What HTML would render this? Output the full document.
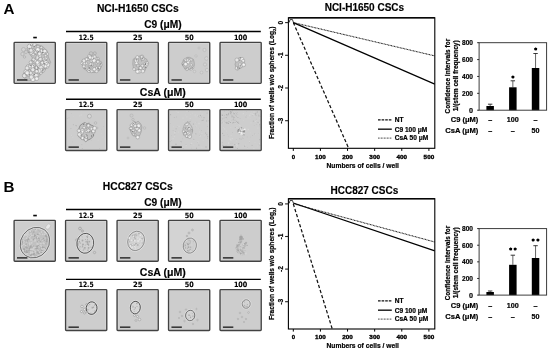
<!DOCTYPE html>
<html><head><meta charset="utf-8"><style>
html,body{margin:0;padding:0;background:#fff;}
svg{display:block;}
text{font-family:'Liberation Sans',sans-serif;font-weight:bold;fill:#000;}
text.h{stroke:#000;stroke-width:0.15px;}
text.m{font-family:'DejaVu Sans',sans-serif;stroke:#000;stroke-width:0.1px;}
text.c{stroke:#000;stroke-width:0.2px;}
text.c2{stroke:#000;stroke-width:0.35px;}
text.st{stroke:#000;stroke-width:0.9px;stroke-linejoin:round;}
</style></head><body>
<svg width="550" height="352" viewBox="0 0 550 352">
<defs><filter id="b1" x="-20%" y="-20%" width="140%" height="140%"><feGaussianBlur stdDeviation="0.35"/></filter><filter id="b2" x="-20%" y="-20%" width="140%" height="140%"><feGaussianBlur stdDeviation="0.5"/></filter></defs>
<rect width="550" height="352" fill="#fff"/>
<text x="3.60" y="13.60" font-size="15.2" text-anchor="start" >A</text>
<text x="96.90" y="12.00" font-size="10.3" text-anchor="start" class="h" >NCI-H1650 CSCs</text>
<text x="144.20" y="27.80" font-size="10.2" text-anchor="start" class="h" >C9 (μM)</text>
<line x1="66.00" y1="31.50" x2="260.80" y2="31.50" stroke="#000" stroke-width="1.45" />
<text x="35.05" y="39.60" font-size="8.2" text-anchor="middle" class="m" style="stroke-width:0.35px">–</text>
<text x="86.18" y="40.10" font-size="7.3" text-anchor="middle" class="m"  textLength="14.9" lengthAdjust="spacingAndGlyphs">12.5</text>
<text x="137.66" y="40.10" font-size="7.3" text-anchor="middle" class="m"  textLength="9.5" lengthAdjust="spacingAndGlyphs">25</text>
<text x="189.14" y="40.10" font-size="7.3" text-anchor="middle" class="m"  textLength="9.0" lengthAdjust="spacingAndGlyphs">50</text>
<text x="240.62" y="40.10" font-size="7.3" text-anchor="middle" class="m"  textLength="13.4" lengthAdjust="spacingAndGlyphs">100</text>
<rect x="14.10" y="42.40" width="41.20" height="40.90" fill="#cdcdcd" stroke="none" stroke-width="0" />
<g filter="url(#b1)"><polygon points="29.1,45.4 33.0,44.2 37.0,44.3 42.7,46.5 47.3,51.0 48.4,56.8 50.7,62.5 47.3,67.0 43.9,71.5 39.3,76.0 34.8,80.6 26.8,80.6 22.3,76.0 25.7,69.3 30.2,63.6 32.5,57.9 29.1,53.4 26.8,48.8" fill="#c2c2c2" stroke="#909090" stroke-width="0.5" stroke-linejoin="round"/>
<circle cx="26.1" cy="75.0" r="2.04" fill="#e6e6e6" stroke="#8a8a8a" stroke-width="0.45"/>
<circle cx="26.1" cy="75.0" r="0.82" fill="#f6f6f6"/>
<circle cx="40.8" cy="72.9" r="1.30" fill="#e6e6e6" stroke="#8a8a8a" stroke-width="0.45"/>
<circle cx="41.1" cy="72.9" r="0.52" fill="#f6f6f6"/>
<circle cx="34.9" cy="70.5" r="1.45" fill="#e6e6e6" stroke="#8a8a8a" stroke-width="0.45"/>
<circle cx="34.7" cy="62.2" r="1.46" fill="#e6e6e6" stroke="#8a8a8a" stroke-width="0.45"/>
<circle cx="34.5" cy="62.2" r="0.58" fill="#f6f6f6"/>
<circle cx="30.5" cy="45.0" r="2.12" fill="#e6e6e6" stroke="#8a8a8a" stroke-width="0.45"/>
<circle cx="40.5" cy="51.0" r="2.29" fill="#e6e6e6" stroke="#8a8a8a" stroke-width="0.45"/>
<circle cx="42.8" cy="70.1" r="2.23" fill="#e6e6e6" stroke="#8a8a8a" stroke-width="0.45"/>
<circle cx="43.1" cy="70.2" r="0.89" fill="#f6f6f6"/>
<circle cx="30.9" cy="65.6" r="2.17" fill="#e6e6e6" stroke="#8a8a8a" stroke-width="0.45"/>
<circle cx="36.7" cy="65.6" r="1.24" fill="#e6e6e6" stroke="#8a8a8a" stroke-width="0.45"/>
<circle cx="36.9" cy="65.6" r="0.50" fill="#f6f6f6"/>
<circle cx="42.3" cy="68.8" r="1.61" fill="#e6e6e6" stroke="#8a8a8a" stroke-width="0.45"/>
<circle cx="42.3" cy="69.0" r="0.64" fill="#f6f6f6"/>
<circle cx="37.1" cy="58.5" r="1.74" fill="#e6e6e6" stroke="#8a8a8a" stroke-width="0.45"/>
<circle cx="36.7" cy="58.7" r="0.70" fill="#f6f6f6"/>
<circle cx="33.5" cy="50.4" r="1.75" fill="#e6e6e6" stroke="#8a8a8a" stroke-width="0.45"/>
<circle cx="44.2" cy="63.8" r="2.15" fill="#e6e6e6" stroke="#8a8a8a" stroke-width="0.45"/>
<circle cx="44.2" cy="64.2" r="0.86" fill="#f6f6f6"/>
<circle cx="38.7" cy="60.9" r="1.50" fill="#e6e6e6" stroke="#8a8a8a" stroke-width="0.45"/>
<circle cx="45.3" cy="63.1" r="1.82" fill="#e6e6e6" stroke="#8a8a8a" stroke-width="0.45"/>
<circle cx="44.9" cy="63.4" r="0.73" fill="#f6f6f6"/>
<circle cx="38.5" cy="51.5" r="1.76" fill="#e6e6e6" stroke="#8a8a8a" stroke-width="0.45"/>
<circle cx="38.4" cy="51.4" r="0.70" fill="#f6f6f6"/>
<circle cx="37.6" cy="66.9" r="1.87" fill="#e6e6e6" stroke="#8a8a8a" stroke-width="0.45"/>
<circle cx="37.2" cy="66.7" r="0.75" fill="#f6f6f6"/>
<circle cx="29.6" cy="74.8" r="1.94" fill="#e6e6e6" stroke="#8a8a8a" stroke-width="0.45"/>
<circle cx="29.2" cy="74.5" r="0.78" fill="#f6f6f6"/>
<circle cx="43.8" cy="53.3" r="1.32" fill="#e6e6e6" stroke="#8a8a8a" stroke-width="0.45"/>
<circle cx="32.1" cy="46.7" r="1.38" fill="#e6e6e6" stroke="#8a8a8a" stroke-width="0.45"/>
<circle cx="42.5" cy="60.8" r="1.55" fill="#e6e6e6" stroke="#8a8a8a" stroke-width="0.45"/>
<circle cx="42.1" cy="60.7" r="0.62" fill="#f6f6f6"/>
<circle cx="34.3" cy="51.0" r="1.32" fill="#e6e6e6" stroke="#8a8a8a" stroke-width="0.45"/>
<circle cx="36.8" cy="51.8" r="1.87" fill="#e6e6e6" stroke="#8a8a8a" stroke-width="0.45"/>
<circle cx="26.5" cy="70.4" r="1.38" fill="#e6e6e6" stroke="#8a8a8a" stroke-width="0.45"/>
<circle cx="41.6" cy="64.0" r="1.44" fill="#e6e6e6" stroke="#8a8a8a" stroke-width="0.45"/>
<circle cx="45.0" cy="63.0" r="1.45" fill="#e6e6e6" stroke="#8a8a8a" stroke-width="0.45"/>
<circle cx="33.5" cy="65.2" r="1.55" fill="#e6e6e6" stroke="#8a8a8a" stroke-width="0.45"/>
<circle cx="31.0" cy="75.4" r="1.54" fill="#e6e6e6" stroke="#8a8a8a" stroke-width="0.45"/>
<circle cx="43.4" cy="59.3" r="1.48" fill="#e6e6e6" stroke="#8a8a8a" stroke-width="0.45"/>
<circle cx="43.7" cy="59.0" r="0.59" fill="#f6f6f6"/>
<circle cx="38.5" cy="50.4" r="2.15" fill="#e6e6e6" stroke="#8a8a8a" stroke-width="0.45"/>
<circle cx="42.3" cy="62.7" r="1.62" fill="#e6e6e6" stroke="#8a8a8a" stroke-width="0.45"/>
<circle cx="42.1" cy="62.9" r="0.65" fill="#f6f6f6"/>
<circle cx="34.6" cy="51.3" r="1.31" fill="#e6e6e6" stroke="#8a8a8a" stroke-width="0.45"/>
<circle cx="30.7" cy="62.4" r="1.56" fill="#e6e6e6" stroke="#8a8a8a" stroke-width="0.45"/>
<circle cx="31.9" cy="52.0" r="1.94" fill="#e6e6e6" stroke="#8a8a8a" stroke-width="0.45"/>
<circle cx="29.0" cy="70.6" r="1.29" fill="#e6e6e6" stroke="#8a8a8a" stroke-width="0.45"/>
<circle cx="29.3" cy="70.4" r="0.52" fill="#f6f6f6"/>
<circle cx="43.9" cy="66.0" r="2.13" fill="#e6e6e6" stroke="#8a8a8a" stroke-width="0.45"/>
<circle cx="43.7" cy="65.9" r="0.85" fill="#f6f6f6"/>
<circle cx="46.9" cy="66.2" r="2.25" fill="#e6e6e6" stroke="#8a8a8a" stroke-width="0.45"/>
<circle cx="24.4" cy="75.7" r="2.07" fill="#e6e6e6" stroke="#8a8a8a" stroke-width="0.45"/>
<circle cx="32.0" cy="66.6" r="2.06" fill="#e6e6e6" stroke="#8a8a8a" stroke-width="0.45"/>
<circle cx="32.0" cy="66.4" r="0.82" fill="#f6f6f6"/>
<circle cx="47.6" cy="64.7" r="2.22" fill="#e6e6e6" stroke="#8a8a8a" stroke-width="0.45"/>
<circle cx="47.4" cy="65.0" r="0.89" fill="#f6f6f6"/>
<circle cx="41.3" cy="47.5" r="1.33" fill="#e6e6e6" stroke="#8a8a8a" stroke-width="0.45"/>
<circle cx="29.2" cy="71.3" r="1.31" fill="#e6e6e6" stroke="#8a8a8a" stroke-width="0.45"/>
<circle cx="33.0" cy="79.5" r="2.20" fill="#e6e6e6" stroke="#8a8a8a" stroke-width="0.45"/>
<circle cx="32.8" cy="79.5" r="0.88" fill="#f6f6f6"/>
<circle cx="39.2" cy="60.6" r="1.54" fill="#e6e6e6" stroke="#8a8a8a" stroke-width="0.45"/>
<circle cx="39.6" cy="61.0" r="0.62" fill="#f6f6f6"/>
<circle cx="28.4" cy="66.7" r="2.28" fill="#e6e6e6" stroke="#8a8a8a" stroke-width="0.45"/>
<circle cx="41.8" cy="68.3" r="1.48" fill="#e6e6e6" stroke="#8a8a8a" stroke-width="0.45"/>
<circle cx="31.0" cy="53.2" r="1.29" fill="#e6e6e6" stroke="#8a8a8a" stroke-width="0.45"/>
<circle cx="31.4" cy="53.1" r="0.52" fill="#f6f6f6"/>
<circle cx="40.8" cy="67.6" r="2.23" fill="#e6e6e6" stroke="#8a8a8a" stroke-width="0.45"/>
<circle cx="40.7" cy="67.5" r="0.89" fill="#f6f6f6"/>
<circle cx="31.3" cy="75.0" r="2.18" fill="#e6e6e6" stroke="#8a8a8a" stroke-width="0.45"/>
<circle cx="31.2" cy="75.1" r="0.87" fill="#f6f6f6"/>
<circle cx="38.7" cy="65.9" r="1.47" fill="#e6e6e6" stroke="#8a8a8a" stroke-width="0.45"/>
<circle cx="38.5" cy="65.6" r="0.59" fill="#f6f6f6"/>
<circle cx="38.0" cy="46.8" r="1.28" fill="#e6e6e6" stroke="#8a8a8a" stroke-width="0.45"/>
<circle cx="30.6" cy="73.0" r="1.74" fill="#e6e6e6" stroke="#8a8a8a" stroke-width="0.45"/>
<circle cx="45.6" cy="55.8" r="1.32" fill="#e6e6e6" stroke="#8a8a8a" stroke-width="0.45"/>
<circle cx="31.3" cy="77.1" r="2.08" fill="#e6e6e6" stroke="#8a8a8a" stroke-width="0.45"/>
<circle cx="41.9" cy="50.7" r="1.68" fill="#e6e6e6" stroke="#8a8a8a" stroke-width="0.45"/>
<circle cx="42.1" cy="50.8" r="0.67" fill="#f6f6f6"/>
<circle cx="29.5" cy="46.5" r="2.26" fill="#e6e6e6" stroke="#8a8a8a" stroke-width="0.45"/>
<circle cx="37.9" cy="63.9" r="2.14" fill="#e6e6e6" stroke="#8a8a8a" stroke-width="0.45"/>
<circle cx="37.8" cy="63.8" r="0.85" fill="#f6f6f6"/>
<circle cx="40.7" cy="59.4" r="1.83" fill="#e6e6e6" stroke="#8a8a8a" stroke-width="0.45"/>
<circle cx="40.5" cy="59.1" r="0.73" fill="#f6f6f6"/>
<circle cx="45.8" cy="58.7" r="1.64" fill="#e6e6e6" stroke="#8a8a8a" stroke-width="0.45"/>
<circle cx="37.3" cy="62.4" r="1.91" fill="#e6e6e6" stroke="#8a8a8a" stroke-width="0.45"/>
<circle cx="37.5" cy="62.6" r="0.77" fill="#f6f6f6"/>
<circle cx="35.9" cy="52.4" r="1.65" fill="#e6e6e6" stroke="#8a8a8a" stroke-width="0.45"/>
<circle cx="30.1" cy="67.7" r="1.25" fill="#e6e6e6" stroke="#8a8a8a" stroke-width="0.45"/>
<circle cx="30.1" cy="68.0" r="0.50" fill="#f6f6f6"/>
<circle cx="26.8" cy="72.1" r="2.17" fill="#e6e6e6" stroke="#8a8a8a" stroke-width="0.45"/>
<circle cx="27.0" cy="72.4" r="0.87" fill="#f6f6f6"/>
<circle cx="32.9" cy="69.7" r="2.01" fill="#e6e6e6" stroke="#8a8a8a" stroke-width="0.45"/>
<circle cx="41.7" cy="70.3" r="1.58" fill="#e6e6e6" stroke="#8a8a8a" stroke-width="0.45"/>
<circle cx="27.0" cy="70.8" r="1.24" fill="#e6e6e6" stroke="#8a8a8a" stroke-width="0.45"/>
<circle cx="45.2" cy="67.1" r="1.49" fill="#e6e6e6" stroke="#8a8a8a" stroke-width="0.45"/>
<circle cx="41.0" cy="69.7" r="1.69" fill="#e6e6e6" stroke="#8a8a8a" stroke-width="0.45"/>
<circle cx="45.1" cy="60.0" r="1.38" fill="#e6e6e6" stroke="#8a8a8a" stroke-width="0.45"/>
<circle cx="44.8" cy="60.3" r="0.55" fill="#f6f6f6"/>
<circle cx="39.4" cy="59.1" r="1.33" fill="#e6e6e6" stroke="#8a8a8a" stroke-width="0.45"/>
<circle cx="39.2" cy="59.3" r="0.53" fill="#f6f6f6"/>
<circle cx="34.8" cy="45.0" r="1.89" fill="#e6e6e6" stroke="#8a8a8a" stroke-width="0.45"/>
<circle cx="46.0" cy="51.7" r="1.51" fill="#e6e6e6" stroke="#8a8a8a" stroke-width="0.45"/>
<circle cx="30.1" cy="65.5" r="1.48" fill="#e6e6e6" stroke="#8a8a8a" stroke-width="0.45"/>
<circle cx="36.2" cy="75.3" r="2.05" fill="#e6e6e6" stroke="#8a8a8a" stroke-width="0.45"/>
<circle cx="33.2" cy="54.5" r="1.32" fill="#e6e6e6" stroke="#8a8a8a" stroke-width="0.45"/>
<circle cx="25.7" cy="71.4" r="1.80" fill="#e6e6e6" stroke="#8a8a8a" stroke-width="0.45"/>
<circle cx="38.6" cy="55.5" r="1.75" fill="#e6e6e6" stroke="#8a8a8a" stroke-width="0.45"/>
<circle cx="38.6" cy="55.1" r="0.70" fill="#f6f6f6"/>
<circle cx="34.9" cy="60.6" r="1.54" fill="#e6e6e6" stroke="#8a8a8a" stroke-width="0.45"/>
<circle cx="35.1" cy="60.7" r="0.61" fill="#f6f6f6"/>
<circle cx="36.3" cy="67.8" r="1.62" fill="#e6e6e6" stroke="#8a8a8a" stroke-width="0.45"/>
<circle cx="35.9" cy="67.6" r="0.65" fill="#f6f6f6"/>
<circle cx="45.9" cy="62.8" r="2.29" fill="#e6e6e6" stroke="#8a8a8a" stroke-width="0.45"/>
<circle cx="46.1" cy="62.7" r="0.91" fill="#f6f6f6"/>
<circle cx="31.0" cy="50.4" r="1.88" fill="#e6e6e6" stroke="#8a8a8a" stroke-width="0.45"/>
<circle cx="33.4" cy="59.7" r="1.65" fill="#e6e6e6" stroke="#8a8a8a" stroke-width="0.45"/>
<circle cx="38.9" cy="70.9" r="2.19" fill="#e6e6e6" stroke="#8a8a8a" stroke-width="0.45"/>
<circle cx="36.3" cy="71.3" r="1.90" fill="#e6e6e6" stroke="#8a8a8a" stroke-width="0.45"/>
<circle cx="40.2" cy="59.0" r="1.89" fill="#e6e6e6" stroke="#8a8a8a" stroke-width="0.45"/>
<circle cx="45.5" cy="66.2" r="1.58" fill="#e6e6e6" stroke="#8a8a8a" stroke-width="0.45"/>
<circle cx="45.6" cy="66.5" r="0.63" fill="#f6f6f6"/>
<circle cx="37.8" cy="49.7" r="2.12" fill="#e6e6e6" stroke="#8a8a8a" stroke-width="0.45"/>
<circle cx="37.7" cy="49.4" r="0.85" fill="#f6f6f6"/>
<circle cx="36.8" cy="71.3" r="1.66" fill="#e6e6e6" stroke="#8a8a8a" stroke-width="0.45"/>
<circle cx="36.9" cy="70.9" r="0.67" fill="#f6f6f6"/>
<circle cx="36.7" cy="78.6" r="1.96" fill="#e6e6e6" stroke="#8a8a8a" stroke-width="0.45"/>
<circle cx="36.9" cy="78.7" r="0.78" fill="#f6f6f6"/>
<circle cx="47.5" cy="54.0" r="1.28" fill="#e6e6e6" stroke="#8a8a8a" stroke-width="0.45"/>
<circle cx="37.2" cy="57.6" r="1.76" fill="#e6e6e6" stroke="#8a8a8a" stroke-width="0.45"/>
<circle cx="27.1" cy="68.0" r="1.98" fill="#e6e6e6" stroke="#8a8a8a" stroke-width="0.45"/>
<circle cx="30.0" cy="66.4" r="1.46" fill="#e6e6e6" stroke="#8a8a8a" stroke-width="0.45"/>
<circle cx="27.2" cy="72.9" r="2.15" fill="#e6e6e6" stroke="#8a8a8a" stroke-width="0.45"/>
<circle cx="27.0" cy="73.3" r="0.86" fill="#f6f6f6"/>
<circle cx="40.0" cy="55.7" r="1.67" fill="#e6e6e6" stroke="#8a8a8a" stroke-width="0.45"/>
<circle cx="44.6" cy="51.1" r="1.89" fill="#e6e6e6" stroke="#8a8a8a" stroke-width="0.45"/>
<circle cx="45.0" cy="51.1" r="0.76" fill="#f6f6f6"/>
<circle cx="39.5" cy="53.7" r="1.78" fill="#e6e6e6" stroke="#8a8a8a" stroke-width="0.45"/>
<circle cx="39.2" cy="53.9" r="0.71" fill="#f6f6f6"/><circle cx="26.1" cy="75.0" r="0.53" fill="#6e6e6e"/><circle cx="35.1" cy="67.9" r="0.54" fill="#6e6e6e"/><circle cx="46.0" cy="60.0" r="0.53" fill="#6e6e6e"/><circle cx="42.8" cy="52.5" r="0.58" fill="#6e6e6e"/><circle cx="34.7" cy="62.2" r="0.37" fill="#6e6e6e"/><circle cx="28.9" cy="52.2" r="0.44" fill="#6e6e6e"/><circle cx="30.5" cy="45.0" r="0.55" fill="#6e6e6e"/><circle cx="38.1" cy="67.6" r="0.36" fill="#6e6e6e"/><circle cx="42.8" cy="70.1" r="0.58" fill="#6e6e6e"/><circle cx="34.3" cy="74.4" r="0.50" fill="#6e6e6e"/><circle cx="30.9" cy="65.6" r="0.56" fill="#6e6e6e"/><circle cx="46.3" cy="62.6" r="0.48" fill="#6e6e6e"/><circle cx="44.9" cy="59.3" r="0.35" fill="#6e6e6e"/><circle cx="37.9" cy="69.8" r="0.50" fill="#6e6e6e"/><circle cx="32.9" cy="60.2" r="0.45" fill="#6e6e6e"/><circle cx="44.4" cy="63.2" r="0.42" fill="#6e6e6e"/><circle cx="36.2" cy="45.3" r="0.31" fill="#6e6e6e"/><circle cx="39.1" cy="58.5" r="0.35" fill="#6e6e6e"/><circle cx="44.2" cy="63.8" r="0.56" fill="#6e6e6e"/><circle cx="35.3" cy="54.0" r="0.46" fill="#6e6e6e"/><circle cx="45.3" cy="63.1" r="0.47" fill="#6e6e6e"/><circle cx="34.4" cy="46.2" r="0.56" fill="#6e6e6e"/><circle cx="38.5" cy="51.5" r="0.45" fill="#6e6e6e"/><circle cx="36.1" cy="57.2" r="0.40" fill="#6e6e6e"/><circle cx="37.6" cy="66.9" r="0.48" fill="#6e6e6e"/><circle cx="35.3" cy="45.2" r="0.37" fill="#6e6e6e"/><circle cx="29.6" cy="74.8" r="0.50" fill="#6e6e6e"/><circle cx="29.4" cy="48.2" r="0.49" fill="#6e6e6e"/><circle cx="32.1" cy="46.7" r="0.35" fill="#6e6e6e"/><circle cx="37.3" cy="50.3" r="0.38" fill="#6e6e6e"/><circle cx="42.5" cy="60.8" r="0.40" fill="#6e6e6e"/><circle cx="35.8" cy="45.1" r="0.42" fill="#6e6e6e"/><circle cx="34.3" cy="51.0" r="0.33" fill="#6e6e6e"/><circle cx="47.9" cy="62.8" r="0.36" fill="#6e6e6e"/><circle cx="39.5" cy="73.9" r="0.31" fill="#6e6e6e"/><circle cx="42.7" cy="50.0" r="0.51" fill="#6e6e6e"/><circle cx="41.6" cy="64.0" r="0.37" fill="#6e6e6e"/><circle cx="37.0" cy="52.3" r="0.49" fill="#6e6e6e"/><circle cx="33.5" cy="65.2" r="0.40" fill="#6e6e6e"/><circle cx="40.2" cy="46.3" r="0.39" fill="#6e6e6e"/><circle cx="23.5" cy="49.5" r="2.00" fill="#d2d2d2" stroke="#9a9a9a" stroke-width="0.45"/><circle cx="22.5" cy="54.0" r="1.70" fill="#d2d2d2" stroke="#9a9a9a" stroke-width="0.45"/><circle cx="26.0" cy="52.0" r="1.50" fill="#d2d2d2" stroke="#9a9a9a" stroke-width="0.45"/><circle cx="24.5" cy="57.0" r="1.20" fill="#d2d2d2" stroke="#9a9a9a" stroke-width="0.45"/></g>
<rect x="15.10" y="43.40" width="39.20" height="38.90" fill="none" stroke="#dedede" stroke-width="0.5" />
<rect x="14.10" y="42.40" width="41.20" height="40.90" fill="none" stroke="#424242" stroke-width="1.35" rx="0.8"/>
<rect x="17.00" y="79.25" width="10.40" height="1.45" fill="#2a2a2a" stroke="none" stroke-width="0" />
<rect x="65.58" y="42.40" width="41.20" height="40.90" fill="#c7c7c7" stroke="none" stroke-width="0" />
<g filter="url(#b1)"><polygon points="101.5,66.5 100.5,68.3 99.8,70.4 97.3,71.1 95.4,72.5 92.8,72.6 90.3,72.0 87.6,71.7 85.9,70.0 83.7,68.7 83.0,66.6 82.4,64.6 81.9,62.5 82.1,60.3 84.4,59.1 86.1,57.7 88.1,56.4 90.7,55.6 93.4,56.4 95.9,57.4 98.7,58.1 99.4,60.6 101.8,62.1 101.5,64.4" fill="#c2c2c2" stroke="#909090" stroke-width="0.5" stroke-linejoin="round"/>
<circle cx="98.5" cy="68.1" r="1.64" fill="#e6e6e6" stroke="#8a8a8a" stroke-width="0.45"/>
<circle cx="98.6" cy="68.2" r="0.65" fill="#f6f6f6"/>
<circle cx="93.5" cy="58.3" r="1.37" fill="#e6e6e6" stroke="#8a8a8a" stroke-width="0.45"/>
<circle cx="93.7" cy="58.7" r="0.55" fill="#f6f6f6"/>
<circle cx="100.8" cy="64.9" r="1.39" fill="#e6e6e6" stroke="#8a8a8a" stroke-width="0.45"/>
<circle cx="100.4" cy="64.5" r="0.56" fill="#f6f6f6"/>
<circle cx="91.2" cy="61.0" r="1.32" fill="#e6e6e6" stroke="#8a8a8a" stroke-width="0.45"/>
<circle cx="92.4" cy="65.1" r="1.16" fill="#e6e6e6" stroke="#8a8a8a" stroke-width="0.45"/>
<circle cx="92.2" cy="64.9" r="0.46" fill="#f6f6f6"/>
<circle cx="95.3" cy="58.7" r="1.88" fill="#e6e6e6" stroke="#8a8a8a" stroke-width="0.45"/>
<circle cx="96.5" cy="71.0" r="1.74" fill="#e6e6e6" stroke="#8a8a8a" stroke-width="0.45"/>
<circle cx="96.9" cy="67.8" r="1.41" fill="#e6e6e6" stroke="#8a8a8a" stroke-width="0.45"/>
<circle cx="91.7" cy="71.3" r="1.45" fill="#e6e6e6" stroke="#8a8a8a" stroke-width="0.45"/>
<circle cx="89.0" cy="70.6" r="1.89" fill="#e6e6e6" stroke="#8a8a8a" stroke-width="0.45"/>
<circle cx="89.0" cy="71.0" r="0.76" fill="#f6f6f6"/>
<circle cx="96.3" cy="63.9" r="1.14" fill="#e6e6e6" stroke="#8a8a8a" stroke-width="0.45"/>
<circle cx="96.5" cy="63.6" r="0.46" fill="#f6f6f6"/>
<circle cx="92.0" cy="64.4" r="1.62" fill="#e6e6e6" stroke="#8a8a8a" stroke-width="0.45"/>
<circle cx="88.1" cy="59.1" r="1.46" fill="#e6e6e6" stroke="#8a8a8a" stroke-width="0.45"/>
<circle cx="94.3" cy="56.9" r="1.80" fill="#e6e6e6" stroke="#8a8a8a" stroke-width="0.45"/>
<circle cx="94.9" cy="60.3" r="1.15" fill="#e6e6e6" stroke="#8a8a8a" stroke-width="0.45"/>
<circle cx="84.0" cy="64.5" r="1.84" fill="#e6e6e6" stroke="#8a8a8a" stroke-width="0.45"/>
<circle cx="83.8" cy="64.8" r="0.74" fill="#f6f6f6"/>
<circle cx="90.3" cy="67.8" r="0.94" fill="#e6e6e6" stroke="#8a8a8a" stroke-width="0.45"/>
<circle cx="90.1" cy="67.9" r="0.37" fill="#f6f6f6"/>
<circle cx="98.1" cy="58.3" r="1.10" fill="#e6e6e6" stroke="#8a8a8a" stroke-width="0.45"/>
<circle cx="89.6" cy="56.4" r="1.99" fill="#e6e6e6" stroke="#8a8a8a" stroke-width="0.45"/>
<circle cx="89.2" cy="56.2" r="0.80" fill="#f6f6f6"/>
<circle cx="94.2" cy="68.2" r="1.02" fill="#e6e6e6" stroke="#8a8a8a" stroke-width="0.45"/>
<circle cx="93.8" cy="68.2" r="0.41" fill="#f6f6f6"/>
<circle cx="97.2" cy="68.2" r="1.89" fill="#e6e6e6" stroke="#8a8a8a" stroke-width="0.45"/>
<circle cx="99.1" cy="67.6" r="1.42" fill="#e6e6e6" stroke="#8a8a8a" stroke-width="0.45"/>
<circle cx="99.2" cy="67.5" r="0.57" fill="#f6f6f6"/>
<circle cx="84.0" cy="63.2" r="1.86" fill="#e6e6e6" stroke="#8a8a8a" stroke-width="0.45"/>
<circle cx="84.0" cy="63.1" r="0.74" fill="#f6f6f6"/>
<circle cx="92.2" cy="58.1" r="1.96" fill="#e6e6e6" stroke="#8a8a8a" stroke-width="0.45"/>
<circle cx="92.2" cy="58.0" r="0.78" fill="#f6f6f6"/>
<circle cx="83.8" cy="66.4" r="1.46" fill="#e6e6e6" stroke="#8a8a8a" stroke-width="0.45"/>
<circle cx="86.5" cy="63.2" r="1.18" fill="#e6e6e6" stroke="#8a8a8a" stroke-width="0.45"/>
<circle cx="94.3" cy="69.2" r="1.68" fill="#e6e6e6" stroke="#8a8a8a" stroke-width="0.45"/>
<circle cx="94.3" cy="69.2" r="0.67" fill="#f6f6f6"/>
<circle cx="90.1" cy="57.5" r="1.70" fill="#e6e6e6" stroke="#8a8a8a" stroke-width="0.45"/>
<circle cx="89.7" cy="57.3" r="0.68" fill="#f6f6f6"/>
<circle cx="86.5" cy="59.3" r="1.47" fill="#e6e6e6" stroke="#8a8a8a" stroke-width="0.45"/>
<circle cx="86.4" cy="59.4" r="0.59" fill="#f6f6f6"/>
<circle cx="90.6" cy="64.3" r="1.54" fill="#e6e6e6" stroke="#8a8a8a" stroke-width="0.45"/>
<circle cx="90.5" cy="64.3" r="0.62" fill="#f6f6f6"/>
<circle cx="97.9" cy="61.8" r="1.47" fill="#e6e6e6" stroke="#8a8a8a" stroke-width="0.45"/>
<circle cx="94.1" cy="60.5" r="1.98" fill="#e6e6e6" stroke="#8a8a8a" stroke-width="0.45"/>
<circle cx="93.7" cy="60.7" r="0.79" fill="#f6f6f6"/>
<circle cx="83.9" cy="60.8" r="1.82" fill="#e6e6e6" stroke="#8a8a8a" stroke-width="0.45"/>
<circle cx="82.2" cy="63.3" r="1.35" fill="#e6e6e6" stroke="#8a8a8a" stroke-width="0.45"/>
<circle cx="82.0" cy="63.4" r="0.54" fill="#f6f6f6"/><circle cx="98.5" cy="68.1" r="0.50" fill="#6e6e6e"/><circle cx="88.1" cy="65.9" r="0.48" fill="#6e6e6e"/><circle cx="93.5" cy="58.3" r="0.43" fill="#6e6e6e"/><circle cx="89.8" cy="67.9" r="0.60" fill="#6e6e6e"/><circle cx="100.8" cy="64.9" r="0.43" fill="#6e6e6e"/><circle cx="82.5" cy="63.5" r="0.40" fill="#6e6e6e"/><circle cx="89.5" cy="70.8" r="0.46" fill="#6e6e6e"/><circle cx="93.1" cy="59.6" r="0.31" fill="#6e6e6e"/><circle cx="88.4" cy="57.9" r="0.45" fill="#6e6e6e"/><circle cx="97.8" cy="68.1" r="0.57" fill="#6e6e6e"/><circle cx="97.1" cy="69.0" r="0.41" fill="#6e6e6e"/><circle cx="85.1" cy="68.4" r="0.51" fill="#6e6e6e"/><circle cx="91.1" cy="64.6" r="0.45" fill="#6e6e6e"/><circle cx="100.3" cy="64.1" r="0.55" fill="#6e6e6e"/><circle cx="89.0" cy="70.6" r="0.57" fill="#6e6e6e"/><circle cx="91.1" cy="65.3" r="0.58" fill="#6e6e6e"/><circle cx="96.3" cy="63.9" r="0.37" fill="#6e6e6e"/><circle cx="88.4" cy="67.5" r="0.35" fill="#6e6e6e"/><circle cx="91.0" cy="53.5" r="1.80" fill="none" stroke="#999" stroke-width="0.5"/><circle cx="94.8" cy="53.3" r="1.50" fill="none" stroke="#999" stroke-width="0.5"/></g>
<rect x="66.58" y="43.40" width="39.20" height="38.90" fill="none" stroke="#dedede" stroke-width="0.5" />
<rect x="65.58" y="42.40" width="41.20" height="40.90" fill="none" stroke="#424242" stroke-width="1.35" rx="0.8"/>
<rect x="68.48" y="79.25" width="10.40" height="1.45" fill="#2a2a2a" stroke="none" stroke-width="0" />
<rect x="117.06" y="42.40" width="41.20" height="40.90" fill="#cdcdcd" stroke="none" stroke-width="0" />
<g filter="url(#b1)"><polygon points="146.9,64.1 146.5,66.3 145.8,68.6 144.7,71.1 142.0,71.1 139.8,72.3 137.3,72.0 135.4,70.4 133.4,68.9 133.2,66.3 132.8,64.1 132.9,61.8 133.2,59.2 135.3,57.7 137.5,56.8 139.8,55.9 142.2,56.6 144.2,57.9 146.6,59.1 147.6,61.5" fill="#c2c2c2" stroke="#909090" stroke-width="0.5" stroke-linejoin="round"/>
<circle cx="136.3" cy="64.8" r="1.31" fill="#e6e6e6" stroke="#8a8a8a" stroke-width="0.45"/>
<circle cx="142.1" cy="57.0" r="0.91" fill="#e6e6e6" stroke="#8a8a8a" stroke-width="0.45"/>
<circle cx="136.6" cy="59.8" r="2.00" fill="#e6e6e6" stroke="#8a8a8a" stroke-width="0.45"/>
<circle cx="136.9" cy="59.7" r="0.80" fill="#f6f6f6"/>
<circle cx="142.2" cy="58.4" r="1.60" fill="#e6e6e6" stroke="#8a8a8a" stroke-width="0.45"/>
<circle cx="140.5" cy="68.0" r="1.64" fill="#e6e6e6" stroke="#8a8a8a" stroke-width="0.45"/>
<circle cx="140.7" cy="68.1" r="0.66" fill="#f6f6f6"/>
<circle cx="145.6" cy="63.7" r="1.69" fill="#e6e6e6" stroke="#8a8a8a" stroke-width="0.45"/>
<circle cx="143.4" cy="71.0" r="1.33" fill="#e6e6e6" stroke="#8a8a8a" stroke-width="0.45"/>
<circle cx="139.4" cy="71.2" r="1.87" fill="#e6e6e6" stroke="#8a8a8a" stroke-width="0.45"/>
<circle cx="139.1" cy="71.0" r="0.75" fill="#f6f6f6"/>
<circle cx="147.1" cy="63.1" r="1.59" fill="#e6e6e6" stroke="#8a8a8a" stroke-width="0.45"/>
<circle cx="147.1" cy="63.0" r="0.64" fill="#f6f6f6"/>
<circle cx="138.0" cy="65.5" r="1.54" fill="#e6e6e6" stroke="#8a8a8a" stroke-width="0.45"/>
<circle cx="142.9" cy="71.1" r="1.84" fill="#e6e6e6" stroke="#8a8a8a" stroke-width="0.45"/>
<circle cx="142.7" cy="58.6" r="1.85" fill="#e6e6e6" stroke="#8a8a8a" stroke-width="0.45"/>
<circle cx="146.2" cy="65.2" r="1.69" fill="#e6e6e6" stroke="#8a8a8a" stroke-width="0.45"/>
<circle cx="146.4" cy="65.3" r="0.67" fill="#f6f6f6"/>
<circle cx="134.1" cy="69.0" r="1.35" fill="#e6e6e6" stroke="#8a8a8a" stroke-width="0.45"/>
<circle cx="134.0" cy="69.2" r="0.54" fill="#f6f6f6"/>
<circle cx="141.9" cy="56.7" r="1.69" fill="#e6e6e6" stroke="#8a8a8a" stroke-width="0.45"/>
<circle cx="142.2" cy="57.1" r="0.68" fill="#f6f6f6"/>
<circle cx="137.4" cy="57.2" r="1.56" fill="#e6e6e6" stroke="#8a8a8a" stroke-width="0.45"/>
<circle cx="137.1" cy="57.1" r="0.62" fill="#f6f6f6"/>
<circle cx="141.8" cy="58.5" r="0.95" fill="#e6e6e6" stroke="#8a8a8a" stroke-width="0.45"/>
<circle cx="137.5" cy="71.6" r="1.89" fill="#e6e6e6" stroke="#8a8a8a" stroke-width="0.45"/>
<circle cx="137.4" cy="71.6" r="0.75" fill="#f6f6f6"/>
<circle cx="142.3" cy="65.7" r="1.52" fill="#e6e6e6" stroke="#8a8a8a" stroke-width="0.45"/>
<circle cx="146.7" cy="64.2" r="1.37" fill="#e6e6e6" stroke="#8a8a8a" stroke-width="0.45"/>
<circle cx="136.3" cy="60.8" r="1.98" fill="#e6e6e6" stroke="#8a8a8a" stroke-width="0.45"/>
<circle cx="138.9" cy="65.4" r="0.92" fill="#e6e6e6" stroke="#8a8a8a" stroke-width="0.45"/>
<circle cx="142.1" cy="56.9" r="1.59" fill="#e6e6e6" stroke="#8a8a8a" stroke-width="0.45"/>
<circle cx="142.3" cy="56.8" r="0.64" fill="#f6f6f6"/>
<circle cx="143.3" cy="68.0" r="0.92" fill="#e6e6e6" stroke="#8a8a8a" stroke-width="0.45"/>
<circle cx="143.4" cy="68.4" r="0.37" fill="#f6f6f6"/>
<circle cx="136.5" cy="63.4" r="1.55" fill="#e6e6e6" stroke="#8a8a8a" stroke-width="0.45"/>
<circle cx="136.4" cy="63.2" r="0.62" fill="#f6f6f6"/><circle cx="136.3" cy="64.8" r="0.41" fill="#6e6e6e"/><circle cx="141.7" cy="66.1" r="0.32" fill="#6e6e6e"/><circle cx="136.6" cy="59.8" r="0.60" fill="#6e6e6e"/><circle cx="139.8" cy="69.6" r="0.44" fill="#6e6e6e"/><circle cx="142.2" cy="58.4" r="0.49" fill="#6e6e6e"/><circle cx="145.6" cy="64.5" r="0.52" fill="#6e6e6e"/><circle cx="142.7" cy="57.0" r="0.53" fill="#6e6e6e"/><circle cx="141.5" cy="60.9" r="0.31" fill="#6e6e6e"/><circle cx="145.6" cy="63.7" r="0.52" fill="#6e6e6e"/><circle cx="145.8" cy="67.6" r="0.58" fill="#6e6e6e"/><circle cx="138.6" cy="69.0" r="0.43" fill="#6e6e6e"/><circle cx="139.3" cy="66.2" r="0.39" fill="#6e6e6e"/></g>
<rect x="118.06" y="43.40" width="39.20" height="38.90" fill="none" stroke="#dedede" stroke-width="0.5" />
<rect x="117.06" y="42.40" width="41.20" height="40.90" fill="none" stroke="#424242" stroke-width="1.35" rx="0.8"/>
<rect x="119.96" y="79.25" width="10.40" height="1.45" fill="#2a2a2a" stroke="none" stroke-width="0" />
<rect x="168.54" y="42.40" width="41.20" height="40.90" fill="#cdcdcd" stroke="none" stroke-width="0" />
<g filter="url(#b1)"><polygon points="194.3,63.5 194.3,65.6 193.2,67.4 191.7,69.1 189.4,69.7 187.3,69.2 184.8,69.2 183.8,67.1 182.5,65.5 181.7,63.5 182.8,61.6 183.5,59.7 185.4,58.8 187.2,57.4 189.5,57.3 191.5,58.2 193.5,59.4 194.0,61.5" fill="#c2c2c2" stroke="#909090" stroke-width="0.5" stroke-linejoin="round"/>
<circle cx="186.7" cy="59.2" r="0.97" fill="#e6e6e6" stroke="#8a8a8a" stroke-width="0.45"/>
<circle cx="187.0" cy="59.4" r="0.39" fill="#f6f6f6"/>
<circle cx="191.3" cy="60.0" r="1.49" fill="#e6e6e6" stroke="#8a8a8a" stroke-width="0.45"/>
<circle cx="191.1" cy="59.7" r="0.60" fill="#f6f6f6"/>
<circle cx="192.1" cy="67.3" r="1.78" fill="#e6e6e6" stroke="#8a8a8a" stroke-width="0.45"/>
<circle cx="192.0" cy="67.4" r="0.71" fill="#f6f6f6"/>
<circle cx="190.9" cy="67.9" r="1.87" fill="#e6e6e6" stroke="#8a8a8a" stroke-width="0.45"/>
<circle cx="191.0" cy="68.0" r="0.75" fill="#f6f6f6"/>
<circle cx="188.1" cy="59.5" r="1.42" fill="#e6e6e6" stroke="#8a8a8a" stroke-width="0.45"/>
<circle cx="188.4" cy="59.8" r="0.57" fill="#f6f6f6"/>
<circle cx="188.6" cy="61.0" r="1.90" fill="#e6e6e6" stroke="#8a8a8a" stroke-width="0.45"/>
<circle cx="188.1" cy="62.4" r="1.56" fill="#e6e6e6" stroke="#8a8a8a" stroke-width="0.45"/>
<circle cx="187.8" cy="62.3" r="0.62" fill="#f6f6f6"/>
<circle cx="185.2" cy="63.9" r="1.42" fill="#e6e6e6" stroke="#8a8a8a" stroke-width="0.45"/>
<circle cx="185.6" cy="63.7" r="0.57" fill="#f6f6f6"/>
<circle cx="186.9" cy="59.8" r="1.60" fill="#e6e6e6" stroke="#8a8a8a" stroke-width="0.45"/>
<circle cx="186.8" cy="60.0" r="0.64" fill="#f6f6f6"/>
<circle cx="185.7" cy="64.2" r="1.89" fill="#e6e6e6" stroke="#8a8a8a" stroke-width="0.45"/>
<circle cx="185.4" cy="64.0" r="0.76" fill="#f6f6f6"/>
<circle cx="191.3" cy="64.9" r="1.16" fill="#e6e6e6" stroke="#8a8a8a" stroke-width="0.45"/>
<circle cx="191.1" cy="64.9" r="0.46" fill="#f6f6f6"/>
<circle cx="191.0" cy="69.2" r="0.92" fill="#e6e6e6" stroke="#8a8a8a" stroke-width="0.45"/>
<circle cx="191.3" cy="69.4" r="0.37" fill="#f6f6f6"/>
<circle cx="186.9" cy="69.0" r="1.58" fill="#e6e6e6" stroke="#8a8a8a" stroke-width="0.45"/>
<circle cx="185.4" cy="59.7" r="1.39" fill="#e6e6e6" stroke="#8a8a8a" stroke-width="0.45"/>
<circle cx="185.3" cy="60.0" r="0.56" fill="#f6f6f6"/><circle cx="186.7" cy="59.2" r="0.32" fill="#6e6e6e"/><circle cx="186.7" cy="68.7" r="0.54" fill="#6e6e6e"/><circle cx="191.3" cy="60.0" r="0.46" fill="#6e6e6e"/><circle cx="185.2" cy="59.4" r="0.33" fill="#6e6e6e"/><circle cx="192.1" cy="67.3" r="0.54" fill="#6e6e6e"/><circle cx="184.1" cy="61.1" r="0.49" fill="#6e6e6e"/><circle cx="190.9" cy="67.9" r="0.56" fill="#6e6e6e"/><circle cx="182.8" cy="64.8" r="0.50" fill="#6e6e6e"/><circle cx="204.5" cy="50.0" r="1.60" fill="#d4d4d4" stroke="#a8a8a8" stroke-width="0.4"/><circle cx="206.5" cy="58.5" r="1.80" fill="#d4d4d4" stroke="#a8a8a8" stroke-width="0.4"/><circle cx="205.0" cy="64.5" r="1.60" fill="#d4d4d4" stroke="#a8a8a8" stroke-width="0.4"/><circle cx="207.0" cy="70.0" r="1.70" fill="#d4d4d4" stroke="#a8a8a8" stroke-width="0.4"/><circle cx="201.5" cy="72.5" r="1.40" fill="#d4d4d4" stroke="#a8a8a8" stroke-width="0.4"/><circle cx="194.5" cy="71.5" r="1.30" fill="#d4d4d4" stroke="#a8a8a8" stroke-width="0.4"/><circle cx="196.0" cy="56.0" r="1.20" fill="#d4d4d4" stroke="#a8a8a8" stroke-width="0.4"/><circle cx="199.0" cy="48.0" r="1.00" fill="#d4d4d4" stroke="#a8a8a8" stroke-width="0.4"/></g>
<rect x="169.54" y="43.40" width="39.20" height="38.90" fill="none" stroke="#dedede" stroke-width="0.5" />
<rect x="168.54" y="42.40" width="41.20" height="40.90" fill="none" stroke="#424242" stroke-width="1.35" rx="0.8"/>
<rect x="171.44" y="79.25" width="10.40" height="1.45" fill="#2a2a2a" stroke="none" stroke-width="0" />
<rect x="220.02" y="42.40" width="41.20" height="40.90" fill="#cdcdcd" stroke="none" stroke-width="0" />
<g filter="url(#b1)"><polygon points="244.0,64.7 242.9,66.5 241.5,67.9 239.7,68.5 237.9,68.8 236.2,67.9 235.5,66.0 235.0,64.1 235.8,62.1 236.2,60.0 237.7,58.6 239.5,57.5 241.3,57.8 242.6,59.2 243.6,60.6 244.2,62.5" fill="#c2c2c2" stroke="#909090" stroke-width="0.5" stroke-linejoin="round"/>
<circle cx="240.7" cy="65.9" r="1.84" fill="#e6e6e6" stroke="#8a8a8a" stroke-width="0.45"/>
<circle cx="243.7" cy="64.8" r="1.92" fill="#e6e6e6" stroke="#8a8a8a" stroke-width="0.45"/>
<circle cx="243.7" cy="64.6" r="0.77" fill="#f6f6f6"/>
<circle cx="240.0" cy="64.0" r="1.21" fill="#e6e6e6" stroke="#8a8a8a" stroke-width="0.45"/>
<circle cx="239.8" cy="64.3" r="0.48" fill="#f6f6f6"/>
<circle cx="242.1" cy="59.3" r="1.84" fill="#e6e6e6" stroke="#8a8a8a" stroke-width="0.45"/>
<circle cx="242.2" cy="59.0" r="0.74" fill="#f6f6f6"/>
<circle cx="236.9" cy="60.0" r="1.99" fill="#e6e6e6" stroke="#8a8a8a" stroke-width="0.45"/>
<circle cx="237.6" cy="68.4" r="1.63" fill="#e6e6e6" stroke="#8a8a8a" stroke-width="0.45"/>
<circle cx="236.9" cy="68.1" r="1.75" fill="#e6e6e6" stroke="#8a8a8a" stroke-width="0.45"/>
<circle cx="243.3" cy="60.9" r="1.49" fill="#e6e6e6" stroke="#8a8a8a" stroke-width="0.45"/>
<circle cx="243.0" cy="60.5" r="0.60" fill="#f6f6f6"/><circle cx="240.7" cy="65.9" r="0.54" fill="#6e6e6e"/><circle cx="239.3" cy="68.2" r="0.49" fill="#6e6e6e"/><circle cx="239.3" cy="60.3" r="0.46" fill="#6e6e6e"/><circle cx="240.3" cy="57.7" r="0.37" fill="#6e6e6e"/><circle cx="237.6" cy="67.9" r="0.53" fill="#6e6e6e"/></g>
<rect x="221.02" y="43.40" width="39.20" height="38.90" fill="none" stroke="#dedede" stroke-width="0.5" />
<rect x="220.02" y="42.40" width="41.20" height="40.90" fill="none" stroke="#424242" stroke-width="1.35" rx="0.8"/>
<rect x="222.92" y="79.25" width="10.40" height="1.45" fill="#2a2a2a" stroke="none" stroke-width="0" />
<text x="139.80" y="95.70" font-size="10.3" text-anchor="start" class="h"  textLength="46.0" lengthAdjust="spacingAndGlyphs">CsA (μM)</text>
<line x1="66.00" y1="99.30" x2="260.80" y2="99.30" stroke="#000" stroke-width="1.45" />
<text x="86.18" y="107.40" font-size="7.3" text-anchor="middle" class="m"  textLength="14.9" lengthAdjust="spacingAndGlyphs">12.5</text>
<text x="137.66" y="107.40" font-size="7.3" text-anchor="middle" class="m"  textLength="9.5" lengthAdjust="spacingAndGlyphs">25</text>
<text x="189.14" y="107.40" font-size="7.3" text-anchor="middle" class="m"  textLength="9.0" lengthAdjust="spacingAndGlyphs">50</text>
<text x="240.62" y="107.40" font-size="7.3" text-anchor="middle" class="m"  textLength="13.4" lengthAdjust="spacingAndGlyphs">100</text>
<rect x="65.58" y="109.55" width="41.20" height="40.90" fill="#cdcdcd" stroke="none" stroke-width="0" />
<g filter="url(#b1)"><circle cx="72.6" cy="136.9" r="0.55" fill="#d3d3d3"/>
<circle cx="99.7" cy="148.6" r="0.49" fill="#bdbdbd"/>
<circle cx="86.2" cy="119.2" r="0.30" fill="#d3d3d3"/>
<circle cx="103.3" cy="126.7" r="0.36" fill="#bdbdbd"/>
<circle cx="102.9" cy="137.1" r="0.47" fill="#d3d3d3"/>
<circle cx="90.6" cy="111.3" r="0.43" fill="#d3d3d3"/>
<circle cx="93.8" cy="135.3" r="0.68" fill="#bdbdbd"/>
<circle cx="72.2" cy="141.9" r="0.35" fill="#bdbdbd"/>
<circle cx="84.1" cy="131.5" r="0.44" fill="#d3d3d3"/>
<circle cx="72.0" cy="135.9" r="0.49" fill="#bdbdbd"/>
<circle cx="69.0" cy="117.7" r="0.57" fill="#bdbdbd"/>
<circle cx="70.9" cy="128.6" r="0.63" fill="#bdbdbd"/>
<circle cx="79.6" cy="115.7" r="0.51" fill="#d3d3d3"/>
<circle cx="80.6" cy="127.6" r="0.45" fill="#d3d3d3"/>
<circle cx="81.5" cy="111.0" r="0.34" fill="#d3d3d3"/>
<circle cx="66.1" cy="112.7" r="0.54" fill="#bdbdbd"/>
<circle cx="88.9" cy="122.4" r="0.69" fill="#bdbdbd"/>
<circle cx="73.2" cy="116.6" r="0.44" fill="#d3d3d3"/>
<circle cx="79.9" cy="133.3" r="0.42" fill="#bdbdbd"/>
<circle cx="72.7" cy="146.0" r="0.37" fill="#d3d3d3"/>
<circle cx="81.0" cy="136.7" r="0.57" fill="#bdbdbd"/>
<circle cx="82.3" cy="148.6" r="0.68" fill="#bdbdbd"/>
<circle cx="101.3" cy="129.1" r="0.45" fill="#bdbdbd"/>
<circle cx="103.5" cy="119.6" r="0.52" fill="#d3d3d3"/>
<circle cx="98.2" cy="140.2" r="0.49" fill="#d3d3d3"/>
<circle cx="68.1" cy="120.1" r="0.42" fill="#d3d3d3"/>
<circle cx="75.9" cy="125.4" r="0.65" fill="#bdbdbd"/>
<circle cx="105.3" cy="139.1" r="0.49" fill="#d3d3d3"/>
<circle cx="71.6" cy="135.4" r="0.66" fill="#d3d3d3"/>
<circle cx="67.1" cy="118.3" r="0.64" fill="#bdbdbd"/>
<circle cx="101.3" cy="133.5" r="0.47" fill="#d3d3d3"/>
<circle cx="78.3" cy="130.8" r="0.41" fill="#bdbdbd"/>
<circle cx="81.3" cy="114.9" r="0.59" fill="#d3d3d3"/>
<circle cx="89.7" cy="135.1" r="0.64" fill="#d3d3d3"/>
<circle cx="76.3" cy="125.8" r="0.68" fill="#bdbdbd"/>
<circle cx="71.3" cy="113.7" r="0.34" fill="#bdbdbd"/>
<circle cx="91.7" cy="140.7" r="0.33" fill="#bdbdbd"/>
<circle cx="92.2" cy="114.9" r="0.52" fill="#d3d3d3"/>
<circle cx="81.9" cy="144.6" r="0.55" fill="#bdbdbd"/>
<circle cx="73.4" cy="124.7" r="0.58" fill="#bdbdbd"/><polygon points="93.5,133.6 93.5,136.2 91.7,137.9 90.0,139.2 87.9,140.0 85.7,141.7 83.7,139.9 81.7,139.1 80.0,137.7 78.0,135.9 79.0,133.0 78.5,130.6 79.1,128.1 80.1,125.5 82.2,123.9 84.5,122.7 87.0,123.7 89.3,123.9 91.2,125.1 93.6,126.1 95.0,128.4 93.9,131.4" fill="#c2c2c2" stroke="#6a6a6a" stroke-width="0.6" stroke-linejoin="round"/>
<circle cx="86.2" cy="127.7" r="0.90" fill="#e6e6e6" stroke="#8a8a8a" stroke-width="0.45"/>
<circle cx="86.0" cy="137.2" r="1.31" fill="#e6e6e6" stroke="#8a8a8a" stroke-width="0.45"/>
<circle cx="82.6" cy="138.0" r="1.70" fill="#e6e6e6" stroke="#8a8a8a" stroke-width="0.45"/>
<circle cx="82.6" cy="138.1" r="0.68" fill="#f6f6f6"/>
<circle cx="81.3" cy="133.3" r="1.79" fill="#e6e6e6" stroke="#8a8a8a" stroke-width="0.45"/>
<circle cx="81.5" cy="133.4" r="0.71" fill="#f6f6f6"/>
<circle cx="92.3" cy="129.1" r="1.00" fill="#e6e6e6" stroke="#8a8a8a" stroke-width="0.45"/>
<circle cx="91.7" cy="131.2" r="1.00" fill="#e6e6e6" stroke="#8a8a8a" stroke-width="0.45"/>
<circle cx="91.8" cy="131.0" r="0.40" fill="#f6f6f6"/>
<circle cx="81.4" cy="135.2" r="1.30" fill="#e6e6e6" stroke="#8a8a8a" stroke-width="0.45"/>
<circle cx="93.4" cy="132.5" r="1.61" fill="#e6e6e6" stroke="#8a8a8a" stroke-width="0.45"/>
<circle cx="88.2" cy="128.5" r="1.55" fill="#e6e6e6" stroke="#8a8a8a" stroke-width="0.45"/>
<circle cx="88.5" cy="128.5" r="0.62" fill="#f6f6f6"/>
<circle cx="80.0" cy="135.3" r="1.24" fill="#e6e6e6" stroke="#8a8a8a" stroke-width="0.45"/>
<circle cx="80.0" cy="135.0" r="0.50" fill="#f6f6f6"/>
<circle cx="88.5" cy="128.6" r="1.32" fill="#e6e6e6" stroke="#8a8a8a" stroke-width="0.45"/>
<circle cx="88.2" cy="129.0" r="0.53" fill="#f6f6f6"/>
<circle cx="78.9" cy="130.8" r="1.72" fill="#e6e6e6" stroke="#8a8a8a" stroke-width="0.45"/>
<circle cx="79.3" cy="130.6" r="0.69" fill="#f6f6f6"/>
<circle cx="85.6" cy="138.5" r="1.78" fill="#e6e6e6" stroke="#8a8a8a" stroke-width="0.45"/>
<circle cx="86.0" cy="136.1" r="1.35" fill="#e6e6e6" stroke="#8a8a8a" stroke-width="0.45"/>
<circle cx="86.2" cy="136.0" r="0.54" fill="#f6f6f6"/>
<circle cx="86.3" cy="137.6" r="1.09" fill="#e6e6e6" stroke="#8a8a8a" stroke-width="0.45"/>
<circle cx="86.0" cy="137.7" r="0.44" fill="#f6f6f6"/>
<circle cx="84.1" cy="127.6" r="1.40" fill="#e6e6e6" stroke="#8a8a8a" stroke-width="0.45"/>
<circle cx="82.3" cy="130.5" r="1.87" fill="#e6e6e6" stroke="#8a8a8a" stroke-width="0.45"/>
<circle cx="82.5" cy="131.8" r="1.43" fill="#e6e6e6" stroke="#8a8a8a" stroke-width="0.45"/>
<circle cx="82.4" cy="131.6" r="0.57" fill="#f6f6f6"/>
<circle cx="91.7" cy="128.9" r="1.63" fill="#e6e6e6" stroke="#8a8a8a" stroke-width="0.45"/>
<circle cx="93.7" cy="129.9" r="1.56" fill="#e6e6e6" stroke="#8a8a8a" stroke-width="0.45"/>
<circle cx="93.6" cy="129.9" r="0.63" fill="#f6f6f6"/>
<circle cx="85.6" cy="123.8" r="0.93" fill="#e6e6e6" stroke="#8a8a8a" stroke-width="0.45"/>
<circle cx="79.9" cy="136.4" r="1.30" fill="#e6e6e6" stroke="#8a8a8a" stroke-width="0.45"/>
<circle cx="88.4" cy="130.8" r="1.76" fill="#e6e6e6" stroke="#8a8a8a" stroke-width="0.45"/>
<circle cx="86.3" cy="131.6" r="1.01" fill="#e6e6e6" stroke="#8a8a8a" stroke-width="0.45"/>
<circle cx="86.1" cy="131.7" r="0.40" fill="#f6f6f6"/>
<circle cx="88.3" cy="125.5" r="1.59" fill="#e6e6e6" stroke="#8a8a8a" stroke-width="0.45"/>
<circle cx="88.0" cy="125.6" r="0.64" fill="#f6f6f6"/>
<circle cx="85.8" cy="139.8" r="1.59" fill="#e6e6e6" stroke="#8a8a8a" stroke-width="0.45"/>
<circle cx="79.4" cy="134.5" r="1.90" fill="#e6e6e6" stroke="#8a8a8a" stroke-width="0.45"/>
<circle cx="93.2" cy="131.3" r="1.66" fill="#e6e6e6" stroke="#8a8a8a" stroke-width="0.45"/>
<circle cx="93.4" cy="131.1" r="1.76" fill="#e6e6e6" stroke="#8a8a8a" stroke-width="0.45"/>
<circle cx="93.2" cy="131.3" r="0.70" fill="#f6f6f6"/>
<circle cx="94.6" cy="128.2" r="1.93" fill="#e6e6e6" stroke="#8a8a8a" stroke-width="0.45"/>
<circle cx="94.9" cy="128.0" r="0.77" fill="#f6f6f6"/><circle cx="86.2" cy="127.7" r="0.30" fill="#6e6e6e"/><circle cx="89.2" cy="131.7" r="0.53" fill="#6e6e6e"/><circle cx="84.3" cy="137.4" r="0.38" fill="#6e6e6e"/><circle cx="91.6" cy="136.6" r="0.42" fill="#6e6e6e"/><circle cx="87.1" cy="135.7" r="0.36" fill="#6e6e6e"/><circle cx="87.4" cy="138.0" r="0.38" fill="#6e6e6e"/><circle cx="91.6" cy="135.8" r="0.55" fill="#6e6e6e"/><circle cx="83.7" cy="124.5" r="0.54" fill="#6e6e6e"/><circle cx="91.7" cy="131.2" r="0.33" fill="#6e6e6e"/><circle cx="81.3" cy="134.8" r="0.39" fill="#6e6e6e"/><circle cx="81.4" cy="135.2" r="0.41" fill="#6e6e6e"/><circle cx="86.7" cy="135.0" r="0.51" fill="#6e6e6e"/><circle cx="88.2" cy="128.5" r="0.48" fill="#6e6e6e"/><circle cx="86.9" cy="125.0" r="0.50" fill="#6e6e6e"/><circle cx="89.4" cy="116.2" r="2.00" fill="#d8d8d8" stroke="#999" stroke-width="0.5"/><circle cx="95.5" cy="123.0" r="1.30" fill="none" stroke="#aaa" stroke-width="0.5"/><circle cx="97.0" cy="128.0" r="1.00" fill="none" stroke="#aaa" stroke-width="0.5"/></g>
<rect x="66.58" y="110.55" width="39.20" height="38.90" fill="none" stroke="#dedede" stroke-width="0.5" />
<rect x="65.58" y="109.55" width="41.20" height="40.90" fill="none" stroke="#424242" stroke-width="1.35" rx="0.8"/>
<rect x="68.48" y="146.40" width="10.40" height="1.45" fill="#2a2a2a" stroke="none" stroke-width="0" />
<rect x="117.06" y="109.55" width="41.20" height="40.90" fill="#cdcdcd" stroke="none" stroke-width="0" />
<g filter="url(#b1)"><polygon points="141.4,129.5 141.2,131.8 140.4,133.9 139.5,135.9 138.0,137.3 136.2,137.0 134.7,136.2 133.0,135.8 131.8,134.1 130.8,132.0 130.0,129.5 130.6,126.9 131.7,124.8 132.8,122.8 134.4,121.6 136.2,122.4 138.1,121.2 139.7,122.6 141.1,124.4 141.9,126.9" fill="#c2c2c2" stroke="#909090" stroke-width="0.5" stroke-linejoin="round"/>
<circle cx="133.8" cy="123.6" r="1.62" fill="#e6e6e6" stroke="#8a8a8a" stroke-width="0.45"/>
<circle cx="133.9" cy="123.5" r="0.65" fill="#f6f6f6"/>
<circle cx="130.7" cy="129.3" r="0.94" fill="#e6e6e6" stroke="#8a8a8a" stroke-width="0.45"/>
<circle cx="130.3" cy="129.0" r="0.38" fill="#f6f6f6"/>
<circle cx="135.0" cy="134.5" r="1.04" fill="#e6e6e6" stroke="#8a8a8a" stroke-width="0.45"/>
<circle cx="135.2" cy="134.8" r="0.41" fill="#f6f6f6"/>
<circle cx="136.9" cy="127.6" r="1.97" fill="#e6e6e6" stroke="#8a8a8a" stroke-width="0.45"/>
<circle cx="137.2" cy="127.4" r="0.79" fill="#f6f6f6"/>
<circle cx="133.7" cy="134.3" r="1.10" fill="#e6e6e6" stroke="#8a8a8a" stroke-width="0.45"/>
<circle cx="137.6" cy="127.2" r="1.50" fill="#e6e6e6" stroke="#8a8a8a" stroke-width="0.45"/>
<circle cx="137.3" cy="126.9" r="0.60" fill="#f6f6f6"/>
<circle cx="138.1" cy="128.1" r="1.25" fill="#e6e6e6" stroke="#8a8a8a" stroke-width="0.45"/>
<circle cx="135.4" cy="126.0" r="1.77" fill="#e6e6e6" stroke="#8a8a8a" stroke-width="0.45"/>
<circle cx="132.9" cy="130.4" r="1.48" fill="#e6e6e6" stroke="#8a8a8a" stroke-width="0.45"/>
<circle cx="138.7" cy="125.8" r="1.98" fill="#e6e6e6" stroke="#8a8a8a" stroke-width="0.45"/>
<circle cx="138.6" cy="126.0" r="0.79" fill="#f6f6f6"/>
<circle cx="131.8" cy="129.0" r="0.94" fill="#e6e6e6" stroke="#8a8a8a" stroke-width="0.45"/>
<circle cx="139.1" cy="130.4" r="1.86" fill="#e6e6e6" stroke="#8a8a8a" stroke-width="0.45"/>
<circle cx="139.3" cy="130.5" r="0.75" fill="#f6f6f6"/>
<circle cx="136.9" cy="128.5" r="1.82" fill="#e6e6e6" stroke="#8a8a8a" stroke-width="0.45"/>
<circle cx="135.6" cy="131.9" r="0.97" fill="#e6e6e6" stroke="#8a8a8a" stroke-width="0.45"/>
<circle cx="137.7" cy="137.2" r="1.80" fill="#e6e6e6" stroke="#8a8a8a" stroke-width="0.45"/>
<circle cx="137.6" cy="137.3" r="0.72" fill="#f6f6f6"/>
<circle cx="130.3" cy="128.6" r="1.08" fill="#e6e6e6" stroke="#8a8a8a" stroke-width="0.45"/>
<circle cx="129.9" cy="128.8" r="0.43" fill="#f6f6f6"/>
<circle cx="131.5" cy="125.2" r="1.33" fill="#e6e6e6" stroke="#8a8a8a" stroke-width="0.45"/>
<circle cx="131.0" cy="128.4" r="1.50" fill="#e6e6e6" stroke="#8a8a8a" stroke-width="0.45"/><circle cx="133.8" cy="123.6" r="0.50" fill="#6e6e6e"/><circle cx="130.9" cy="129.8" r="0.41" fill="#6e6e6e"/><circle cx="130.7" cy="129.3" r="0.31" fill="#6e6e6e"/><circle cx="135.2" cy="122.3" r="0.33" fill="#6e6e6e"/><circle cx="135.0" cy="134.5" r="0.34" fill="#6e6e6e"/><circle cx="132.7" cy="131.3" r="0.58" fill="#6e6e6e"/><circle cx="136.9" cy="127.6" r="0.59" fill="#6e6e6e"/><circle cx="133.4" cy="123.5" r="0.34" fill="#6e6e6e"/><circle cx="131.5" cy="115.5" r="1.50" fill="none" stroke="#aaa" stroke-width="0.5"/><circle cx="133.0" cy="119.5" r="1.20" fill="none" stroke="#aaa" stroke-width="0.5"/><circle cx="144.5" cy="128.0" r="1.30" fill="none" stroke="#b0b0b0" stroke-width="0.5"/><circle cx="128.0" cy="138.0" r="1.00" fill="none" stroke="#b0b0b0" stroke-width="0.5"/></g>
<rect x="118.06" y="110.55" width="39.20" height="38.90" fill="none" stroke="#dedede" stroke-width="0.5" />
<rect x="117.06" y="109.55" width="41.20" height="40.90" fill="none" stroke="#424242" stroke-width="1.35" rx="0.8"/>
<rect x="119.96" y="146.40" width="10.40" height="1.45" fill="#2a2a2a" stroke="none" stroke-width="0" />
<rect x="168.54" y="109.55" width="41.20" height="40.90" fill="#cdcdcd" stroke="none" stroke-width="0" />
<g filter="url(#b1)"><circle cx="206.0" cy="147.0" r="0.66" fill="#b5b5b5"/>
<circle cx="169.7" cy="122.0" r="0.45" fill="#d5d5d5"/>
<circle cx="174.2" cy="117.5" r="0.48" fill="#b5b5b5"/>
<circle cx="193.8" cy="145.2" r="0.34" fill="#d5d5d5"/>
<circle cx="185.8" cy="130.0" r="0.59" fill="#d5d5d5"/>
<circle cx="199.8" cy="118.0" r="0.31" fill="#d5d5d5"/>
<circle cx="195.3" cy="134.2" r="0.69" fill="#d5d5d5"/>
<circle cx="191.6" cy="143.5" r="0.69" fill="#d5d5d5"/>
<circle cx="195.4" cy="122.3" r="0.33" fill="#d5d5d5"/>
<circle cx="176.1" cy="128.8" r="0.62" fill="#b5b5b5"/>
<circle cx="176.3" cy="117.0" r="0.43" fill="#b5b5b5"/>
<circle cx="192.3" cy="113.2" r="0.47" fill="#d5d5d5"/>
<circle cx="206.6" cy="120.9" r="0.54" fill="#b5b5b5"/>
<circle cx="183.8" cy="121.3" r="0.42" fill="#d5d5d5"/>
<circle cx="191.0" cy="120.1" r="0.34" fill="#b5b5b5"/>
<circle cx="197.3" cy="142.3" r="0.40" fill="#b5b5b5"/>
<circle cx="205.7" cy="133.1" r="0.68" fill="#b5b5b5"/>
<circle cx="187.0" cy="111.3" r="0.55" fill="#d5d5d5"/>
<circle cx="169.9" cy="141.6" r="0.57" fill="#b5b5b5"/>
<circle cx="201.2" cy="147.0" r="0.52" fill="#d5d5d5"/>
<circle cx="199.0" cy="123.5" r="0.69" fill="#d5d5d5"/>
<circle cx="188.6" cy="111.4" r="0.41" fill="#b5b5b5"/>
<circle cx="199.2" cy="127.9" r="0.42" fill="#b5b5b5"/>
<circle cx="173.1" cy="130.6" r="0.37" fill="#b5b5b5"/>
<circle cx="179.1" cy="126.4" r="0.66" fill="#d5d5d5"/>
<circle cx="199.5" cy="135.6" r="0.47" fill="#b5b5b5"/>
<circle cx="204.8" cy="136.8" r="0.47" fill="#b5b5b5"/>
<circle cx="190.8" cy="126.6" r="0.42" fill="#b5b5b5"/>
<circle cx="202.1" cy="114.2" r="0.55" fill="#d5d5d5"/>
<circle cx="207.6" cy="138.4" r="0.47" fill="#b5b5b5"/>
<circle cx="207.1" cy="113.1" r="0.52" fill="#b5b5b5"/>
<circle cx="178.4" cy="131.9" r="0.49" fill="#d5d5d5"/>
<circle cx="208.5" cy="120.6" r="0.44" fill="#b5b5b5"/>
<circle cx="200.4" cy="115.5" r="0.65" fill="#b5b5b5"/>
<circle cx="200.7" cy="111.2" r="0.56" fill="#d5d5d5"/>
<circle cx="207.2" cy="126.4" r="0.41" fill="#b5b5b5"/>
<circle cx="190.0" cy="121.6" r="0.66" fill="#b5b5b5"/>
<circle cx="178.1" cy="112.4" r="0.66" fill="#d5d5d5"/>
<circle cx="200.1" cy="136.3" r="0.54" fill="#d5d5d5"/>
<circle cx="196.2" cy="125.9" r="0.62" fill="#d5d5d5"/>
<circle cx="207.4" cy="123.3" r="0.46" fill="#d5d5d5"/>
<circle cx="204.5" cy="136.0" r="0.60" fill="#d5d5d5"/>
<circle cx="190.6" cy="136.9" r="0.45" fill="#d5d5d5"/>
<circle cx="208.5" cy="115.7" r="0.45" fill="#d5d5d5"/>
<circle cx="208.6" cy="120.8" r="0.61" fill="#b5b5b5"/>
<circle cx="203.3" cy="120.1" r="0.64" fill="#b5b5b5"/>
<circle cx="199.5" cy="132.0" r="0.49" fill="#d5d5d5"/>
<circle cx="201.3" cy="120.8" r="0.44" fill="#b5b5b5"/>
<circle cx="193.9" cy="140.4" r="0.37" fill="#d5d5d5"/>
<circle cx="193.4" cy="124.1" r="0.69" fill="#b5b5b5"/>
<circle cx="170.6" cy="114.7" r="0.60" fill="#b5b5b5"/>
<circle cx="174.4" cy="136.6" r="0.67" fill="#d5d5d5"/>
<circle cx="187.8" cy="137.7" r="0.53" fill="#b5b5b5"/>
<circle cx="201.9" cy="133.5" r="0.54" fill="#d5d5d5"/>
<circle cx="170.2" cy="123.7" r="0.36" fill="#b5b5b5"/>
<circle cx="177.2" cy="126.6" r="0.43" fill="#b5b5b5"/>
<circle cx="190.3" cy="143.5" r="0.47" fill="#d5d5d5"/>
<circle cx="190.3" cy="118.6" r="0.52" fill="#d5d5d5"/>
<circle cx="187.3" cy="135.7" r="0.68" fill="#b5b5b5"/>
<circle cx="183.3" cy="148.3" r="0.42" fill="#b5b5b5"/>
<circle cx="188.7" cy="123.7" r="0.38" fill="#b5b5b5"/>
<circle cx="177.4" cy="125.9" r="0.32" fill="#d5d5d5"/>
<circle cx="198.4" cy="128.4" r="0.36" fill="#d5d5d5"/>
<circle cx="183.7" cy="147.3" r="0.31" fill="#d5d5d5"/>
<circle cx="186.8" cy="116.8" r="0.63" fill="#d5d5d5"/>
<circle cx="207.7" cy="130.9" r="0.55" fill="#d5d5d5"/>
<circle cx="201.6" cy="117.1" r="0.48" fill="#b5b5b5"/>
<circle cx="195.4" cy="126.8" r="0.33" fill="#b5b5b5"/>
<circle cx="184.7" cy="124.9" r="0.32" fill="#b5b5b5"/>
<circle cx="185.9" cy="123.7" r="0.68" fill="#d5d5d5"/>
<circle cx="197.8" cy="115.6" r="0.69" fill="#d5d5d5"/>
<circle cx="190.7" cy="114.7" r="0.33" fill="#d5d5d5"/>
<circle cx="196.5" cy="148.2" r="0.62" fill="#b5b5b5"/>
<circle cx="193.8" cy="139.3" r="0.54" fill="#b5b5b5"/>
<circle cx="203.1" cy="140.5" r="0.42" fill="#d5d5d5"/>
<circle cx="186.2" cy="145.6" r="0.68" fill="#d5d5d5"/>
<circle cx="182.5" cy="138.8" r="0.39" fill="#b5b5b5"/>
<circle cx="171.5" cy="140.4" r="0.36" fill="#b5b5b5"/>
<circle cx="196.9" cy="122.1" r="0.40" fill="#b5b5b5"/>
<circle cx="202.2" cy="147.5" r="0.31" fill="#d5d5d5"/>
<circle cx="207.3" cy="134.6" r="0.50" fill="#d5d5d5"/>
<circle cx="190.8" cy="126.5" r="0.55" fill="#b5b5b5"/>
<circle cx="204.0" cy="117.7" r="0.59" fill="#b5b5b5"/>
<circle cx="195.3" cy="115.1" r="0.63" fill="#d5d5d5"/>
<circle cx="171.4" cy="135.8" r="0.36" fill="#b5b5b5"/>
<circle cx="193.0" cy="125.1" r="0.32" fill="#d5d5d5"/>
<circle cx="200.9" cy="134.8" r="0.36" fill="#b5b5b5"/>
<circle cx="183.2" cy="132.8" r="0.50" fill="#d5d5d5"/>
<circle cx="169.3" cy="129.4" r="0.48" fill="#d5d5d5"/>
<circle cx="195.8" cy="133.9" r="0.63" fill="#b5b5b5"/>
<circle cx="181.3" cy="142.8" r="0.35" fill="#b5b5b5"/>
<circle cx="174.6" cy="132.7" r="0.69" fill="#d5d5d5"/>
<circle cx="199.1" cy="117.7" r="0.37" fill="#b5b5b5"/>
<circle cx="202.6" cy="120.4" r="0.54" fill="#b5b5b5"/>
<circle cx="173.6" cy="126.8" r="0.33" fill="#d5d5d5"/>
<circle cx="208.3" cy="140.0" r="0.34" fill="#b5b5b5"/>
<circle cx="174.9" cy="134.6" r="0.47" fill="#b5b5b5"/>
<circle cx="175.4" cy="131.5" r="0.40" fill="#b5b5b5"/>
<circle cx="191.6" cy="148.0" r="0.34" fill="#b5b5b5"/>
<circle cx="198.4" cy="116.0" r="0.52" fill="#b5b5b5"/>
<circle cx="199.4" cy="127.4" r="0.32" fill="#d5d5d5"/>
<circle cx="183.0" cy="118.0" r="0.58" fill="#d5d5d5"/>
<circle cx="181.0" cy="141.3" r="0.66" fill="#b5b5b5"/>
<circle cx="185.2" cy="136.0" r="0.45" fill="#b5b5b5"/>
<circle cx="176.0" cy="144.3" r="0.68" fill="#b5b5b5"/>
<circle cx="170.4" cy="146.2" r="0.43" fill="#b5b5b5"/>
<circle cx="173.2" cy="138.6" r="0.61" fill="#d5d5d5"/>
<circle cx="206.9" cy="134.7" r="0.67" fill="#b5b5b5"/>
<circle cx="185.4" cy="115.0" r="0.41" fill="#d5d5d5"/>
<circle cx="196.0" cy="116.9" r="0.41" fill="#d5d5d5"/>
<circle cx="198.1" cy="141.8" r="0.66" fill="#d5d5d5"/>
<circle cx="190.9" cy="144.3" r="0.49" fill="#b5b5b5"/>
<circle cx="200.2" cy="135.9" r="0.64" fill="#d5d5d5"/>
<circle cx="176.1" cy="110.7" r="0.54" fill="#d5d5d5"/>
<circle cx="186.0" cy="144.6" r="0.40" fill="#b5b5b5"/>
<circle cx="201.6" cy="130.4" r="0.40" fill="#b5b5b5"/>
<circle cx="207.9" cy="136.8" r="0.69" fill="#b5b5b5"/>
<circle cx="188.7" cy="122.5" r="0.61" fill="#d5d5d5"/>
<circle cx="182.6" cy="131.2" r="0.54" fill="#b5b5b5"/>
<circle cx="198.9" cy="145.0" r="0.54" fill="#b5b5b5"/><polygon points="192.5,130.5 192.3,132.9 191.2,134.6 190.7,137.2 188.9,137.1 187.5,137.5 186.0,137.4 184.8,136.3 183.5,135.0 183.2,132.6 183.1,130.5 183.1,128.3 183.8,126.4 184.6,124.3 186.1,124.0 187.5,121.6 189.2,122.6 190.2,124.7 191.4,126.1 192.2,128.1" fill="#cecece" stroke="#909090" stroke-width="0.5" stroke-linejoin="round"/>
<circle cx="184.3" cy="132.8" r="0.99" fill="#e6e6e6" stroke="#8a8a8a" stroke-width="0.45"/>
<circle cx="184.7" cy="132.5" r="0.40" fill="#f6f6f6"/>
<circle cx="189.1" cy="128.9" r="1.40" fill="#e6e6e6" stroke="#8a8a8a" stroke-width="0.45"/>
<circle cx="188.9" cy="129.1" r="0.56" fill="#f6f6f6"/>
<circle cx="186.9" cy="135.9" r="1.32" fill="#e6e6e6" stroke="#8a8a8a" stroke-width="0.45"/>
<circle cx="186.7" cy="136.3" r="0.53" fill="#f6f6f6"/>
<circle cx="183.7" cy="131.4" r="1.31" fill="#e6e6e6" stroke="#8a8a8a" stroke-width="0.45"/>
<circle cx="186.3" cy="132.6" r="1.45" fill="#e6e6e6" stroke="#8a8a8a" stroke-width="0.45"/>
<circle cx="191.6" cy="130.8" r="1.06" fill="#e6e6e6" stroke="#8a8a8a" stroke-width="0.45"/>
<circle cx="192.0" cy="130.8" r="0.42" fill="#f6f6f6"/>
<circle cx="188.5" cy="133.2" r="1.87" fill="#e6e6e6" stroke="#8a8a8a" stroke-width="0.45"/>
<circle cx="188.4" cy="133.5" r="0.75" fill="#f6f6f6"/>
<circle cx="184.3" cy="133.7" r="1.01" fill="#e6e6e6" stroke="#8a8a8a" stroke-width="0.45"/>
<circle cx="189.7" cy="136.7" r="1.83" fill="#e6e6e6" stroke="#8a8a8a" stroke-width="0.45"/>
<circle cx="188.1" cy="129.7" r="0.98" fill="#e6e6e6" stroke="#8a8a8a" stroke-width="0.45"/>
<circle cx="187.9" cy="132.7" r="1.14" fill="#e6e6e6" stroke="#8a8a8a" stroke-width="0.45"/>
<circle cx="187.5" cy="132.6" r="0.46" fill="#f6f6f6"/>
<circle cx="185.6" cy="128.3" r="1.31" fill="#e6e6e6" stroke="#8a8a8a" stroke-width="0.45"/>
<circle cx="186.8" cy="124.2" r="1.63" fill="#e6e6e6" stroke="#8a8a8a" stroke-width="0.45"/>
<circle cx="185.0" cy="133.8" r="1.23" fill="#e6e6e6" stroke="#8a8a8a" stroke-width="0.45"/>
<circle cx="185.2" cy="133.6" r="0.49" fill="#f6f6f6"/><circle cx="184.3" cy="132.8" r="0.33" fill="#6e6e6e"/><circle cx="185.1" cy="131.8" r="0.44" fill="#6e6e6e"/><circle cx="187.4" cy="129.5" r="0.36" fill="#6e6e6e"/><circle cx="185.6" cy="128.1" r="0.57" fill="#6e6e6e"/><circle cx="186.7" cy="123.4" r="0.38" fill="#6e6e6e"/><circle cx="188.9" cy="127.6" r="0.50" fill="#6e6e6e"/><circle cx="186.3" cy="132.6" r="0.45" fill="#6e6e6e"/><circle cx="189.2" cy="135.9" r="0.47" fill="#6e6e6e"/><circle cx="192.0" cy="129.4" r="0.36" fill="#6e6e6e"/><circle cx="192.0" cy="130.8" r="0.52" fill="#6e6e6e"/></g>
<rect x="169.54" y="110.55" width="39.20" height="38.90" fill="none" stroke="#dedede" stroke-width="0.5" />
<rect x="168.54" y="109.55" width="41.20" height="40.90" fill="none" stroke="#424242" stroke-width="1.35" rx="0.8"/>
<rect x="171.44" y="146.40" width="10.40" height="1.45" fill="#2a2a2a" stroke="none" stroke-width="0" />
<rect x="220.02" y="109.55" width="41.20" height="40.90" fill="#cdcdcd" stroke="none" stroke-width="0" />
<g filter="url(#b1)"><circle cx="249.5" cy="142.8" r="0.37" fill="#b8b8b8"/>
<circle cx="228.8" cy="136.2" r="0.34" fill="#b8b8b8"/>
<circle cx="253.3" cy="121.1" r="0.67" fill="#b8b8b8"/>
<circle cx="238.7" cy="143.8" r="0.70" fill="#b8b8b8"/>
<circle cx="222.1" cy="116.6" r="0.50" fill="#d6d6d6"/>
<circle cx="248.3" cy="129.5" r="0.70" fill="#d6d6d6"/>
<circle cx="254.7" cy="116.2" r="0.43" fill="#d6d6d6"/>
<circle cx="224.0" cy="135.3" r="0.56" fill="#b8b8b8"/>
<circle cx="258.0" cy="122.3" r="0.66" fill="#b8b8b8"/>
<circle cx="233.4" cy="119.6" r="0.54" fill="#b8b8b8"/>
<circle cx="253.8" cy="148.7" r="0.64" fill="#d6d6d6"/>
<circle cx="243.5" cy="120.7" r="0.38" fill="#d6d6d6"/>
<circle cx="252.4" cy="135.5" r="0.43" fill="#b8b8b8"/>
<circle cx="247.8" cy="148.0" r="0.35" fill="#d6d6d6"/>
<circle cx="260.9" cy="139.8" r="0.51" fill="#b8b8b8"/>
<circle cx="224.4" cy="115.3" r="0.43" fill="#b8b8b8"/>
<circle cx="236.7" cy="141.0" r="0.46" fill="#d6d6d6"/>
<circle cx="235.5" cy="122.7" r="0.61" fill="#d6d6d6"/>
<circle cx="234.7" cy="144.6" r="0.66" fill="#b8b8b8"/>
<circle cx="223.3" cy="127.6" r="0.43" fill="#d6d6d6"/>
<circle cx="252.5" cy="113.5" r="0.33" fill="#d6d6d6"/>
<circle cx="249.5" cy="141.6" r="0.52" fill="#d6d6d6"/>
<circle cx="255.0" cy="142.7" r="0.41" fill="#d6d6d6"/>
<circle cx="232.8" cy="123.1" r="0.66" fill="#b8b8b8"/>
<circle cx="257.4" cy="146.1" r="0.31" fill="#d6d6d6"/>
<circle cx="237.0" cy="125.3" r="0.42" fill="#d6d6d6"/>
<circle cx="236.3" cy="139.6" r="0.43" fill="#b8b8b8"/>
<circle cx="236.9" cy="110.8" r="0.49" fill="#b8b8b8"/>
<circle cx="227.7" cy="119.0" r="0.35" fill="#b8b8b8"/>
<circle cx="258.8" cy="115.2" r="0.63" fill="#b8b8b8"/>
<circle cx="254.0" cy="112.0" r="0.67" fill="#d6d6d6"/>
<circle cx="223.0" cy="145.4" r="0.62" fill="#b8b8b8"/>
<circle cx="255.6" cy="114.3" r="0.61" fill="#b8b8b8"/>
<circle cx="244.9" cy="130.4" r="0.51" fill="#d6d6d6"/>
<circle cx="231.2" cy="135.5" r="0.48" fill="#d6d6d6"/>
<circle cx="237.4" cy="148.6" r="0.64" fill="#b8b8b8"/>
<circle cx="234.7" cy="117.5" r="0.36" fill="#b8b8b8"/>
<circle cx="238.6" cy="123.3" r="0.68" fill="#b8b8b8"/>
<circle cx="246.7" cy="115.3" r="0.34" fill="#b8b8b8"/>
<circle cx="257.8" cy="128.0" r="0.38" fill="#d6d6d6"/>
<circle cx="260.2" cy="132.0" r="0.49" fill="#d6d6d6"/>
<circle cx="260.7" cy="127.8" r="0.65" fill="#b8b8b8"/>
<circle cx="258.3" cy="116.6" r="0.38" fill="#b8b8b8"/>
<circle cx="221.5" cy="120.8" r="0.49" fill="#b8b8b8"/>
<circle cx="256.7" cy="120.3" r="0.42" fill="#d6d6d6"/>
<circle cx="243.1" cy="146.6" r="0.40" fill="#d6d6d6"/>
<circle cx="258.3" cy="124.2" r="0.39" fill="#d6d6d6"/>
<circle cx="234.3" cy="113.3" r="0.48" fill="#d6d6d6"/>
<circle cx="235.3" cy="127.5" r="0.53" fill="#b8b8b8"/>
<circle cx="222.3" cy="116.4" r="0.31" fill="#d6d6d6"/>
<circle cx="246.3" cy="131.1" r="0.33" fill="#d6d6d6"/>
<circle cx="260.2" cy="145.5" r="0.60" fill="#b8b8b8"/>
<circle cx="235.3" cy="147.0" r="0.56" fill="#b8b8b8"/>
<circle cx="241.7" cy="133.8" r="0.58" fill="#b8b8b8"/>
<circle cx="232.1" cy="143.1" r="0.42" fill="#b8b8b8"/>
<circle cx="232.4" cy="132.6" r="0.45" fill="#b8b8b8"/>
<circle cx="256.7" cy="113.0" r="0.49" fill="#b8b8b8"/>
<circle cx="230.9" cy="140.1" r="0.68" fill="#d6d6d6"/>
<circle cx="226.6" cy="131.0" r="0.39" fill="#d6d6d6"/>
<circle cx="258.9" cy="133.6" r="0.56" fill="#d6d6d6"/>
<circle cx="246.0" cy="117.0" r="0.54" fill="#b8b8b8"/>
<circle cx="259.5" cy="117.8" r="0.37" fill="#d6d6d6"/>
<circle cx="230.2" cy="139.3" r="0.69" fill="#d6d6d6"/>
<circle cx="243.4" cy="128.2" r="0.45" fill="#b8b8b8"/>
<circle cx="239.8" cy="138.8" r="0.57" fill="#b8b8b8"/>
<circle cx="260.4" cy="116.4" r="0.63" fill="#b8b8b8"/>
<circle cx="258.9" cy="144.2" r="0.36" fill="#b8b8b8"/>
<circle cx="241.2" cy="130.6" r="0.55" fill="#d6d6d6"/>
<circle cx="252.1" cy="145.4" r="0.53" fill="#b8b8b8"/>
<circle cx="221.0" cy="133.5" r="0.69" fill="#d6d6d6"/>
<circle cx="245.8" cy="115.0" r="0.36" fill="#d6d6d6"/>
<circle cx="237.9" cy="117.3" r="0.69" fill="#b8b8b8"/>
<circle cx="238.4" cy="143.4" r="0.42" fill="#b8b8b8"/>
<circle cx="240.1" cy="118.5" r="0.41" fill="#b8b8b8"/>
<circle cx="241.1" cy="139.1" r="0.54" fill="#b8b8b8"/>
<circle cx="232.0" cy="138.1" r="0.35" fill="#d6d6d6"/>
<circle cx="226.7" cy="110.1" r="0.67" fill="#b8b8b8"/>
<circle cx="237.4" cy="145.7" r="0.57" fill="#d6d6d6"/>
<circle cx="259.7" cy="118.1" r="0.34" fill="#d6d6d6"/>
<circle cx="252.3" cy="115.7" r="0.43" fill="#b8b8b8"/>
<circle cx="256.2" cy="119.1" r="0.46" fill="#b8b8b8"/>
<circle cx="254.7" cy="133.9" r="0.50" fill="#b8b8b8"/>
<circle cx="251.0" cy="113.7" r="0.66" fill="#d6d6d6"/>
<circle cx="260.2" cy="126.3" r="0.51" fill="#b8b8b8"/>
<circle cx="232.3" cy="138.6" r="0.54" fill="#d6d6d6"/>
<circle cx="236.7" cy="144.6" r="0.67" fill="#d6d6d6"/>
<circle cx="254.0" cy="113.7" r="0.49" fill="#b8b8b8"/>
<circle cx="221.7" cy="140.7" r="0.61" fill="#d6d6d6"/>
<circle cx="246.3" cy="111.2" r="0.40" fill="#b8b8b8"/>
<circle cx="244.8" cy="145.6" r="0.37" fill="#b8b8b8"/>
<circle cx="244.1" cy="133.1" r="0.35" fill="#d6d6d6"/>
<circle cx="250.9" cy="122.8" r="0.40" fill="#d6d6d6"/>
<circle cx="247.5" cy="147.7" r="0.36" fill="#b8b8b8"/>
<circle cx="259.6" cy="143.7" r="0.59" fill="#d6d6d6"/>
<circle cx="236.4" cy="146.1" r="0.53" fill="#d6d6d6"/>
<circle cx="231.3" cy="148.2" r="0.42" fill="#d6d6d6"/>
<circle cx="259.9" cy="124.7" r="0.68" fill="#b8b8b8"/>
<circle cx="228.6" cy="143.0" r="0.64" fill="#d6d6d6"/>
<circle cx="227.3" cy="134.8" r="0.31" fill="#b8b8b8"/>
<circle cx="244.5" cy="135.1" r="0.57" fill="#b8b8b8"/>
<circle cx="243.3" cy="131.4" r="0.69" fill="#b8b8b8"/>
<circle cx="248.0" cy="117.7" r="0.44" fill="#d6d6d6"/>
<circle cx="230.7" cy="127.2" r="0.40" fill="#d6d6d6"/>
<circle cx="255.5" cy="121.5" r="0.53" fill="#d6d6d6"/>
<circle cx="257.4" cy="112.0" r="0.70" fill="#b8b8b8"/>
<circle cx="226.1" cy="145.4" r="0.46" fill="#b8b8b8"/>
<circle cx="229.4" cy="114.3" r="0.42" fill="#d6d6d6"/>
<circle cx="259.9" cy="122.5" r="0.63" fill="#d6d6d6"/>
<circle cx="223.4" cy="127.8" r="0.47" fill="#d6d6d6"/>
<circle cx="256.0" cy="115.5" r="0.52" fill="#b8b8b8"/>
<circle cx="251.3" cy="111.8" r="0.33" fill="#d6d6d6"/>
<circle cx="238.0" cy="116.2" r="0.54" fill="#d6d6d6"/>
<circle cx="232.0" cy="116.9" r="0.57" fill="#b8b8b8"/>
<circle cx="226.0" cy="110.9" r="0.38" fill="#d6d6d6"/>
<circle cx="245.3" cy="145.0" r="0.39" fill="#d6d6d6"/>
<circle cx="255.1" cy="134.5" r="0.47" fill="#d6d6d6"/>
<circle cx="249.4" cy="114.5" r="0.36" fill="#d6d6d6"/>
<circle cx="232.3" cy="116.1" r="0.49" fill="#b8b8b8"/>
<circle cx="253.2" cy="114.5" r="0.69" fill="#d6d6d6"/>
<circle cx="222.3" cy="116.5" r="0.43" fill="#d6d6d6"/>
<circle cx="258.8" cy="133.6" r="0.46" fill="#b8b8b8"/>
<circle cx="232.5" cy="110.4" r="0.58" fill="#b8b8b8"/>
<circle cx="250.3" cy="137.0" r="0.37" fill="#b8b8b8"/>
<circle cx="247.1" cy="136.9" r="0.39" fill="#b8b8b8"/>
<circle cx="222.0" cy="133.5" r="0.31" fill="#b8b8b8"/>
<circle cx="244.6" cy="132.2" r="0.45" fill="#b8b8b8"/>
<circle cx="228.6" cy="114.4" r="0.59" fill="#b8b8b8"/>
<circle cx="243.5" cy="110.9" r="0.46" fill="#d6d6d6"/>
<circle cx="259.6" cy="114.3" r="0.36" fill="#d6d6d6"/>
<circle cx="260.6" cy="114.2" r="0.39" fill="#b8b8b8"/>
<circle cx="223.1" cy="122.9" r="0.61" fill="#d6d6d6"/>
<circle cx="249.8" cy="115.7" r="0.67" fill="#d6d6d6"/>
<circle cx="228.6" cy="143.2" r="0.38" fill="#d6d6d6"/>
<circle cx="236.5" cy="121.4" r="0.65" fill="#b8b8b8"/>
<circle cx="237.0" cy="127.6" r="0.60" fill="#d6d6d6"/>
<circle cx="259.8" cy="139.7" r="0.67" fill="#b8b8b8"/>
<circle cx="235.0" cy="120.1" r="0.62" fill="#b8b8b8"/>
<circle cx="232.0" cy="116.1" r="0.56" fill="#b8b8b8"/>
<circle cx="241.2" cy="135.2" r="0.58" fill="#d6d6d6"/>
<circle cx="234.1" cy="147.0" r="0.61" fill="#d6d6d6"/>
<circle cx="234.4" cy="144.6" r="0.36" fill="#b8b8b8"/>
<circle cx="250.2" cy="132.9" r="0.34" fill="#d6d6d6"/>
<circle cx="224.6" cy="128.9" r="0.55" fill="#d6d6d6"/>
<circle cx="238.5" cy="124.2" r="0.47" fill="#d6d6d6"/>
<circle cx="256.8" cy="124.6" r="0.42" fill="#b8b8b8"/>
<circle cx="222.6" cy="142.8" r="0.47" fill="#b8b8b8"/>
<circle cx="250.1" cy="118.2" r="0.40" fill="#d6d6d6"/>
<circle cx="243.6" cy="138.6" r="0.38" fill="#b8b8b8"/>
<circle cx="252.6" cy="114.1" r="0.61" fill="#d6d6d6"/>
<circle cx="242.5" cy="138.1" r="0.49" fill="#b8b8b8"/>
<circle cx="222.5" cy="133.4" r="0.63" fill="#b8b8b8"/>
<circle cx="241.3" cy="131.1" r="0.68" fill="#b8b8b8"/>
<circle cx="239.9" cy="125.6" r="0.67" fill="#d6d6d6"/>
<circle cx="255.5" cy="113.4" r="0.64" fill="#b8b8b8"/>
<circle cx="230.5" cy="121.7" r="0.53" fill="#d6d6d6"/>
<circle cx="243.3" cy="113.7" r="0.60" fill="#d6d6d6"/>
<circle cx="254.1" cy="125.6" r="0.34" fill="#b8b8b8"/>
<circle cx="244.7" cy="146.4" r="0.53" fill="#b8b8b8"/>
<circle cx="230.6" cy="143.8" r="0.30" fill="#b8b8b8"/>
<circle cx="260.6" cy="120.3" r="0.60" fill="#b8b8b8"/><circle cx="227.8" cy="123.0" r="0.64" fill="#b0b0b0"/>
<circle cx="237.8" cy="114.3" r="0.49" fill="#bebebe"/>
<circle cx="221.6" cy="117.9" r="0.34" fill="#b0b0b0"/>
<circle cx="231.4" cy="120.2" r="0.38" fill="#bebebe"/>
<circle cx="235.8" cy="112.5" r="0.44" fill="#bebebe"/>
<circle cx="230.4" cy="122.4" r="0.63" fill="#b0b0b0"/>
<circle cx="231.8" cy="115.0" r="0.44" fill="#b0b0b0"/>
<circle cx="232.1" cy="111.0" r="0.46" fill="#b0b0b0"/>
<circle cx="230.3" cy="111.8" r="0.65" fill="#b0b0b0"/>
<circle cx="230.8" cy="111.1" r="0.53" fill="#bebebe"/>
<circle cx="236.5" cy="116.3" r="0.62" fill="#bebebe"/>
<circle cx="229.0" cy="121.5" r="0.50" fill="#b0b0b0"/>
<circle cx="221.9" cy="115.7" r="0.63" fill="#bebebe"/>
<circle cx="221.3" cy="123.1" r="0.47" fill="#bebebe"/>
<circle cx="238.1" cy="121.8" r="0.35" fill="#b0b0b0"/>
<circle cx="233.3" cy="122.4" r="0.60" fill="#b0b0b0"/>
<circle cx="237.6" cy="122.4" r="0.60" fill="#b0b0b0"/>
<circle cx="224.0" cy="118.0" r="0.55" fill="#bebebe"/>
<circle cx="227.6" cy="115.1" r="0.50" fill="#bebebe"/>
<circle cx="233.3" cy="116.3" r="0.44" fill="#b0b0b0"/>
<circle cx="236.6" cy="113.7" r="0.43" fill="#b0b0b0"/>
<circle cx="233.7" cy="117.9" r="0.54" fill="#b0b0b0"/>
<circle cx="231.3" cy="112.5" r="0.55" fill="#b0b0b0"/>
<circle cx="234.3" cy="113.6" r="0.61" fill="#b0b0b0"/>
<circle cx="230.4" cy="112.3" r="0.65" fill="#bebebe"/>
<circle cx="237.2" cy="112.4" r="0.43" fill="#b0b0b0"/>
<circle cx="228.4" cy="123.5" r="0.58" fill="#b0b0b0"/>
<circle cx="230.8" cy="111.8" r="0.69" fill="#b0b0b0"/>
<circle cx="233.5" cy="113.0" r="0.52" fill="#b0b0b0"/>
<circle cx="222.3" cy="118.6" r="0.31" fill="#b0b0b0"/>
<circle cx="230.1" cy="113.2" r="0.33" fill="#b0b0b0"/>
<circle cx="233.4" cy="114.1" r="0.48" fill="#bebebe"/>
<circle cx="235.3" cy="115.1" r="0.40" fill="#b0b0b0"/>
<circle cx="236.4" cy="113.9" r="0.47" fill="#bebebe"/>
<circle cx="221.0" cy="114.0" r="0.60" fill="#b0b0b0"/>
<circle cx="227.2" cy="116.7" r="0.32" fill="#bebebe"/>
<circle cx="229.1" cy="121.4" r="0.32" fill="#bebebe"/>
<circle cx="226.7" cy="122.8" r="0.61" fill="#bebebe"/>
<circle cx="228.5" cy="113.3" r="0.56" fill="#b0b0b0"/>
<circle cx="236.0" cy="115.5" r="0.30" fill="#b0b0b0"/>
<circle cx="233.1" cy="119.9" r="0.66" fill="#bebebe"/>
<circle cx="226.2" cy="117.6" r="0.64" fill="#b0b0b0"/>
<circle cx="222.4" cy="115.2" r="0.69" fill="#b0b0b0"/>
<circle cx="236.6" cy="121.4" r="0.31" fill="#bebebe"/>
<circle cx="222.0" cy="123.6" r="0.33" fill="#b0b0b0"/>
<circle cx="224.6" cy="110.9" r="0.68" fill="#bebebe"/>
<circle cx="235.1" cy="122.5" r="0.60" fill="#b0b0b0"/>
<circle cx="228.0" cy="115.1" r="0.35" fill="#b0b0b0"/>
<circle cx="226.5" cy="123.1" r="0.52" fill="#b0b0b0"/>
<circle cx="224.2" cy="117.0" r="0.34" fill="#bebebe"/>
<circle cx="222.2" cy="119.1" r="0.61" fill="#bebebe"/>
<circle cx="224.3" cy="121.0" r="0.35" fill="#b0b0b0"/>
<circle cx="226.1" cy="122.4" r="0.58" fill="#b0b0b0"/>
<circle cx="222.2" cy="122.2" r="0.49" fill="#b0b0b0"/>
<circle cx="226.6" cy="114.8" r="0.70" fill="#b0b0b0"/>
<circle cx="228.6" cy="110.5" r="0.49" fill="#b0b0b0"/>
<circle cx="234.3" cy="114.8" r="0.47" fill="#bebebe"/>
<circle cx="227.5" cy="122.1" r="0.38" fill="#bebebe"/>
<circle cx="234.1" cy="117.2" r="0.57" fill="#b0b0b0"/>
<circle cx="230.8" cy="113.7" r="0.62" fill="#b0b0b0"/></g><g filter="url(#b2)"><circle cx="239.2" cy="132.3" r="0.43" fill="#f0f0f0"/><circle cx="241.6" cy="132.6" r="0.88" fill="#f0f0f0"/><circle cx="243.1" cy="134.7" r="0.73" fill="#a0a0a0"/><circle cx="238.7" cy="128.7" r="0.64" fill="#f0f0f0"/><circle cx="240.5" cy="134.4" r="0.42" fill="#e8e8e8"/><circle cx="244.4" cy="131.7" r="0.65" fill="#8e8e8e"/><circle cx="241.3" cy="132.8" r="0.56" fill="#e8e8e8"/><circle cx="244.4" cy="130.6" r="0.82" fill="#a0a0a0"/><circle cx="239.1" cy="132.5" r="0.83" fill="#b4b4b4"/><circle cx="238.1" cy="131.8" r="0.76" fill="#8e8e8e"/><circle cx="240.2" cy="130.5" r="0.42" fill="#f0f0f0"/><circle cx="243.3" cy="132.1" r="0.42" fill="#8e8e8e"/><circle cx="243.0" cy="134.1" r="0.88" fill="#e8e8e8"/><circle cx="243.7" cy="133.9" r="0.86" fill="#f0f0f0"/><circle cx="240.3" cy="131.1" r="0.60" fill="#8e8e8e"/><circle cx="239.0" cy="132.4" r="0.75" fill="#f0f0f0"/><circle cx="238.8" cy="129.4" r="0.85" fill="#8e8e8e"/><circle cx="242.0" cy="130.4" r="0.45" fill="#a0a0a0"/><circle cx="241.1" cy="129.5" r="0.47" fill="#b4b4b4"/><circle cx="241.6" cy="130.3" r="0.71" fill="#e8e8e8"/><circle cx="243.2" cy="131.5" r="0.73" fill="#a0a0a0"/><circle cx="238.7" cy="128.9" r="0.43" fill="#e8e8e8"/><circle cx="240.1" cy="131.1" r="0.73" fill="#a0a0a0"/><circle cx="239.2" cy="133.8" r="0.47" fill="#a0a0a0"/><circle cx="243.0" cy="131.7" r="0.80" fill="#b4b4b4"/><circle cx="241.5" cy="127.8" r="0.77" fill="#a0a0a0"/><circle cx="240.3" cy="128.8" r="0.67" fill="#e8e8e8"/><circle cx="239.6" cy="128.5" r="0.66" fill="#b4b4b4"/><circle cx="243.4" cy="129.7" r="0.53" fill="#e8e8e8"/><circle cx="244.8" cy="129.4" r="0.81" fill="#f0f0f0"/><circle cx="243.9" cy="134.5" r="0.60" fill="#8e8e8e"/><circle cx="242.1" cy="131.4" r="0.61" fill="#b4b4b4"/><circle cx="243.7" cy="131.1" r="0.45" fill="#8e8e8e"/><circle cx="243.7" cy="131.5" r="0.82" fill="#8e8e8e"/><circle cx="243.6" cy="133.1" r="0.70" fill="#b4b4b4"/><circle cx="238.1" cy="130.2" r="0.72" fill="#8e8e8e"/><circle cx="243.7" cy="133.2" r="0.46" fill="#f0f0f0"/><circle cx="241.5" cy="133.8" r="0.83" fill="#f0f0f0"/><circle cx="239.6" cy="132.3" r="0.78" fill="#f0f0f0"/><circle cx="242.8" cy="130.1" r="0.63" fill="#e8e8e8"/></g>
<rect x="221.02" y="110.55" width="39.20" height="38.90" fill="none" stroke="#dedede" stroke-width="0.5" />
<rect x="220.02" y="109.55" width="41.20" height="40.90" fill="none" stroke="#424242" stroke-width="1.35" rx="0.8"/>
<rect x="222.92" y="146.40" width="10.40" height="1.45" fill="#2a2a2a" stroke="none" stroke-width="0" />
<text x="3.60" y="191.80" font-size="15.2" text-anchor="start" >B</text>
<text x="102.80" y="190.00" font-size="10.3" text-anchor="start" class="h" >HCC827 CSCs</text>
<text x="144.20" y="205.70" font-size="10.2" text-anchor="start" class="h" >C9 (μM)</text>
<line x1="66.00" y1="209.40" x2="260.80" y2="209.40" stroke="#000" stroke-width="1.45" />
<text x="35.05" y="217.50" font-size="8.2" text-anchor="middle" class="m" style="stroke-width:0.35px">–</text>
<text x="86.18" y="218.00" font-size="7.3" text-anchor="middle" class="m"  textLength="14.9" lengthAdjust="spacingAndGlyphs">12.5</text>
<text x="137.66" y="218.00" font-size="7.3" text-anchor="middle" class="m"  textLength="9.5" lengthAdjust="spacingAndGlyphs">25</text>
<text x="189.14" y="218.00" font-size="7.3" text-anchor="middle" class="m"  textLength="9.0" lengthAdjust="spacingAndGlyphs">50</text>
<text x="240.62" y="218.00" font-size="7.3" text-anchor="middle" class="m"  textLength="13.4" lengthAdjust="spacingAndGlyphs">100</text>
<rect x="14.10" y="220.30" width="41.20" height="40.90" fill="#cdcdcd" stroke="none" stroke-width="0" />
<g filter="url(#b1)"><ellipse cx="34.9" cy="242.6" rx="14.00" ry="16.00" transform="rotate(35.5 34.9 242.6)" fill="#c0c0c0" stroke="#d4d4d4" stroke-width="1.2"/>
<circle cx="37.8" cy="241.9" r="0.75" fill="#d2d2d2"/>
<circle cx="36.0" cy="256.1" r="0.79" fill="#d2d2d2"/>
<circle cx="38.6" cy="238.5" r="0.55" fill="#a6a6a6"/>
<circle cx="41.2" cy="251.1" r="0.63" fill="#d2d2d2"/>
<circle cx="39.7" cy="244.3" r="0.81" fill="#a6a6a6"/>
<circle cx="21.6" cy="243.6" r="0.99" fill="#a6a6a6"/>
<circle cx="24.4" cy="250.8" r="0.59" fill="#a6a6a6"/>
<circle cx="41.5" cy="230.2" r="0.75" fill="#a6a6a6"/>
<circle cx="32.2" cy="229.8" r="0.65" fill="#d2d2d2"/>
<circle cx="28.9" cy="250.8" r="0.79" fill="#a6a6a6"/>
<circle cx="38.8" cy="240.4" r="0.76" fill="#d2d2d2"/>
<circle cx="21.6" cy="245.2" r="0.97" fill="#d2d2d2"/>
<circle cx="37.7" cy="234.6" r="0.56" fill="#a6a6a6"/>
<circle cx="40.1" cy="233.2" r="0.79" fill="#a6a6a6"/>
<circle cx="41.6" cy="246.6" r="0.61" fill="#d2d2d2"/>
<circle cx="34.4" cy="235.2" r="0.45" fill="#d2d2d2"/>
<circle cx="38.8" cy="241.1" r="0.92" fill="#a6a6a6"/>
<circle cx="28.5" cy="239.1" r="0.95" fill="#a6a6a6"/>
<circle cx="45.4" cy="232.9" r="0.69" fill="#d2d2d2"/>
<circle cx="34.1" cy="238.9" r="0.75" fill="#a6a6a6"/>
<circle cx="40.9" cy="233.7" r="0.66" fill="#a6a6a6"/>
<circle cx="26.8" cy="235.0" r="1.00" fill="#d2d2d2"/>
<circle cx="35.1" cy="240.3" r="0.70" fill="#d2d2d2"/>
<circle cx="32.7" cy="256.6" r="0.82" fill="#d2d2d2"/>
<circle cx="30.7" cy="255.7" r="0.49" fill="#d2d2d2"/>
<circle cx="34.1" cy="249.4" r="0.79" fill="#a6a6a6"/>
<circle cx="42.8" cy="247.4" r="0.88" fill="#a6a6a6"/>
<circle cx="26.8" cy="250.9" r="0.83" fill="#a6a6a6"/>
<circle cx="45.4" cy="236.0" r="0.76" fill="#a6a6a6"/>
<circle cx="30.7" cy="233.7" r="0.45" fill="#d2d2d2"/>
<circle cx="29.5" cy="248.4" r="0.82" fill="#a6a6a6"/>
<circle cx="30.1" cy="245.6" r="0.73" fill="#d2d2d2"/>
<circle cx="29.4" cy="243.7" r="0.78" fill="#d2d2d2"/>
<circle cx="30.4" cy="254.2" r="0.92" fill="#a6a6a6"/>
<circle cx="26.5" cy="233.6" r="0.45" fill="#d2d2d2"/>
<circle cx="30.1" cy="237.5" r="0.86" fill="#a6a6a6"/>
<circle cx="26.3" cy="244.1" r="0.70" fill="#a6a6a6"/>
<circle cx="30.6" cy="237.2" r="0.60" fill="#a6a6a6"/>
<circle cx="35.5" cy="240.9" r="0.69" fill="#d2d2d2"/>
<circle cx="35.1" cy="251.4" r="0.88" fill="#d2d2d2"/>
<circle cx="34.3" cy="235.2" r="0.84" fill="#a6a6a6"/>
<circle cx="35.8" cy="230.9" r="0.50" fill="#d2d2d2"/>
<circle cx="24.0" cy="244.4" r="0.97" fill="#d2d2d2"/>
<circle cx="37.7" cy="242.2" r="0.98" fill="#a6a6a6"/>
<circle cx="41.4" cy="250.2" r="0.71" fill="#a6a6a6"/>
<circle cx="29.7" cy="253.0" r="0.64" fill="#a6a6a6"/>
<circle cx="30.5" cy="253.8" r="1.00" fill="#d2d2d2"/>
<circle cx="44.3" cy="249.7" r="0.61" fill="#d2d2d2"/>
<circle cx="39.5" cy="239.9" r="0.49" fill="#a6a6a6"/>
<circle cx="37.6" cy="248.8" r="0.83" fill="#a6a6a6"/>
<circle cx="21.5" cy="245.8" r="0.89" fill="#d2d2d2"/>
<circle cx="37.0" cy="242.5" r="0.52" fill="#d2d2d2"/>
<circle cx="25.3" cy="241.0" r="0.74" fill="#a6a6a6"/>
<circle cx="44.2" cy="243.7" r="0.63" fill="#d2d2d2"/>
<circle cx="25.0" cy="240.9" r="0.62" fill="#d2d2d2"/>
<circle cx="38.5" cy="242.3" r="0.61" fill="#d2d2d2"/>
<circle cx="29.0" cy="234.7" r="0.85" fill="#d2d2d2"/>
<circle cx="38.2" cy="241.9" r="0.71" fill="#a6a6a6"/>
<circle cx="40.0" cy="230.3" r="0.98" fill="#d2d2d2"/>
<circle cx="21.8" cy="242.0" r="0.59" fill="#d2d2d2"/>
<circle cx="31.0" cy="255.2" r="0.61" fill="#a6a6a6"/>
<circle cx="35.6" cy="247.4" r="0.72" fill="#d2d2d2"/>
<circle cx="23.8" cy="241.6" r="0.82" fill="#d2d2d2"/>
<circle cx="38.5" cy="244.2" r="0.75" fill="#d2d2d2"/>
<circle cx="31.2" cy="234.2" r="0.98" fill="#d2d2d2"/>
<circle cx="42.6" cy="249.3" r="0.44" fill="#a6a6a6"/>
<circle cx="23.4" cy="250.9" r="0.84" fill="#d2d2d2"/>
<circle cx="32.9" cy="229.6" r="0.57" fill="#a6a6a6"/>
<circle cx="33.8" cy="231.9" r="0.77" fill="#a6a6a6"/>
<circle cx="32.1" cy="242.6" r="0.42" fill="#d2d2d2"/>
<circle cx="28.5" cy="233.5" r="0.41" fill="#d2d2d2"/>
<circle cx="36.3" cy="248.5" r="0.94" fill="#a6a6a6"/>
<circle cx="37.0" cy="237.7" r="0.42" fill="#a6a6a6"/>
<circle cx="30.8" cy="247.9" r="0.62" fill="#d2d2d2"/>
<circle cx="35.6" cy="230.3" r="0.68" fill="#d2d2d2"/>
<circle cx="24.8" cy="236.4" r="0.48" fill="#d2d2d2"/>
<circle cx="22.4" cy="241.8" r="0.88" fill="#a6a6a6"/>
<circle cx="34.1" cy="247.4" r="0.85" fill="#d2d2d2"/>
<circle cx="31.2" cy="248.3" r="0.78" fill="#a6a6a6"/>
<circle cx="37.6" cy="245.9" r="0.53" fill="#d2d2d2"/>
<circle cx="40.8" cy="243.6" r="0.92" fill="#d2d2d2"/>
<circle cx="45.9" cy="235.3" r="0.58" fill="#a6a6a6"/>
<circle cx="25.2" cy="240.6" r="0.42" fill="#a6a6a6"/>
<circle cx="26.4" cy="252.2" r="0.90" fill="#a6a6a6"/>
<circle cx="28.1" cy="244.4" r="0.49" fill="#d2d2d2"/>
<circle cx="32.9" cy="240.0" r="0.56" fill="#d2d2d2"/>
<circle cx="32.5" cy="246.9" r="0.74" fill="#a6a6a6"/>
<circle cx="42.7" cy="234.4" r="0.78" fill="#d2d2d2"/>
<circle cx="30.7" cy="246.4" r="0.98" fill="#a6a6a6"/>
<circle cx="27.0" cy="247.8" r="0.87" fill="#a6a6a6"/>
<circle cx="46.9" cy="236.5" r="0.99" fill="#a6a6a6"/>
<circle cx="30.5" cy="245.7" r="0.90" fill="#a6a6a6"/>
<circle cx="27.5" cy="232.1" r="0.67" fill="#d2d2d2"/>
<circle cx="35.7" cy="253.5" r="0.64" fill="#a6a6a6"/>
<circle cx="35.4" cy="229.4" r="0.63" fill="#a6a6a6"/>
<circle cx="33.7" cy="249.0" r="0.89" fill="#d2d2d2"/>
<circle cx="31.1" cy="249.7" r="0.91" fill="#a6a6a6"/>
<circle cx="23.6" cy="240.7" r="0.67" fill="#a6a6a6"/>
<circle cx="33.7" cy="228.8" r="0.63" fill="#d2d2d2"/>
<circle cx="29.5" cy="242.2" r="0.49" fill="#d2d2d2"/>
<circle cx="38.8" cy="245.5" r="0.87" fill="#a6a6a6"/>
<circle cx="27.0" cy="251.7" r="0.47" fill="#a6a6a6"/>
<circle cx="40.9" cy="230.8" r="0.68" fill="#a6a6a6"/>
<circle cx="27.4" cy="232.5" r="0.45" fill="#d2d2d2"/>
<circle cx="41.4" cy="249.2" r="0.74" fill="#a6a6a6"/>
<circle cx="34.1" cy="255.9" r="0.89" fill="#d2d2d2"/>
<circle cx="34.0" cy="250.3" r="0.82" fill="#d2d2d2"/>
<circle cx="39.4" cy="243.9" r="0.54" fill="#d2d2d2"/>
<circle cx="37.8" cy="236.9" r="0.85" fill="#a6a6a6"/>
<circle cx="33.5" cy="246.7" r="0.89" fill="#d2d2d2"/>
<circle cx="31.2" cy="235.0" r="0.50" fill="#a6a6a6"/>
<circle cx="25.5" cy="246.4" r="0.42" fill="#d2d2d2"/>
<circle cx="36.6" cy="238.0" r="0.65" fill="#a6a6a6"/>
<circle cx="35.8" cy="229.7" r="0.43" fill="#a6a6a6"/>
<circle cx="43.5" cy="238.5" r="0.71" fill="#a6a6a6"/>
<circle cx="29.3" cy="249.1" r="0.61" fill="#a6a6a6"/>
<circle cx="37.6" cy="252.3" r="0.76" fill="#d2d2d2"/>
<circle cx="25.1" cy="234.9" r="0.83" fill="#d2d2d2"/>
<circle cx="40.6" cy="245.5" r="0.44" fill="#a6a6a6"/>
<circle cx="39.3" cy="238.8" r="0.52" fill="#a6a6a6"/>
<circle cx="32.7" cy="249.8" r="0.43" fill="#a6a6a6"/>
<circle cx="27.5" cy="236.7" r="0.64" fill="#d2d2d2"/>
<circle cx="47.1" cy="239.6" r="0.97" fill="#a6a6a6"/>
<circle cx="27.7" cy="252.3" r="0.73" fill="#a6a6a6"/>
<circle cx="37.5" cy="250.7" r="1.00" fill="#a6a6a6"/>
<circle cx="26.3" cy="242.3" r="0.50" fill="#d2d2d2"/>
<circle cx="45.3" cy="237.9" r="0.65" fill="#d2d2d2"/>
<circle cx="37.9" cy="234.2" r="0.82" fill="#a6a6a6"/>
<circle cx="30.5" cy="247.8" r="0.85" fill="#a6a6a6"/>
<circle cx="38.9" cy="251.6" r="0.84" fill="#a6a6a6"/>
<circle cx="29.9" cy="250.7" r="0.51" fill="#a6a6a6"/>
<circle cx="37.3" cy="245.9" r="0.76" fill="#a6a6a6"/>
<circle cx="38.0" cy="252.3" r="0.94" fill="#a6a6a6"/>
<circle cx="24.3" cy="249.2" r="0.93" fill="#a6a6a6"/>
<circle cx="46.6" cy="240.8" r="0.64" fill="#a6a6a6"/>
<circle cx="32.8" cy="241.8" r="0.46" fill="#d2d2d2"/>
<circle cx="44.3" cy="240.3" r="0.57" fill="#a6a6a6"/>
<circle cx="40.1" cy="247.7" r="0.89" fill="#d2d2d2"/>
<circle cx="41.2" cy="252.5" r="0.91" fill="#a6a6a6"/>
<circle cx="41.6" cy="245.4" r="0.47" fill="#d2d2d2"/>
<circle cx="38.8" cy="241.8" r="0.69" fill="#d2d2d2"/>
<circle cx="22.5" cy="239.6" r="0.56" fill="#d2d2d2"/>
<circle cx="33.5" cy="254.3" r="0.94" fill="#a6a6a6"/>
<circle cx="25.9" cy="233.7" r="0.92" fill="#d2d2d2"/>
<circle cx="31.2" cy="249.5" r="0.75" fill="#d2d2d2"/>
<circle cx="37.7" cy="243.2" r="0.60" fill="#d2d2d2"/>
<circle cx="33.0" cy="235.3" r="0.99" fill="#d2d2d2"/>
<circle cx="31.6" cy="235.4" r="0.68" fill="#d2d2d2"/>
<circle cx="36.3" cy="229.8" r="0.73" fill="#d2d2d2"/>
<circle cx="43.5" cy="243.3" r="0.93" fill="#d2d2d2"/>
<circle cx="40.7" cy="253.8" r="0.80" fill="#d2d2d2"/>
<circle cx="47.0" cy="238.2" r="0.72" fill="#a6a6a6"/>
<circle cx="22.3" cy="239.6" r="0.88" fill="#a6a6a6"/>
<circle cx="33.8" cy="251.2" r="0.55" fill="#a6a6a6"/>
<circle cx="37.6" cy="247.5" r="0.56" fill="#a6a6a6"/>
<circle cx="24.6" cy="235.3" r="0.79" fill="#d2d2d2"/>
<circle cx="45.4" cy="232.7" r="0.60" fill="#d2d2d2"/>
<circle cx="41.7" cy="248.9" r="0.96" fill="#d2d2d2"/>
<circle cx="42.3" cy="251.1" r="0.68" fill="#d2d2d2"/>
<circle cx="36.8" cy="255.6" r="0.63" fill="#d2d2d2"/>
<circle cx="32.7" cy="234.8" r="0.45" fill="#a6a6a6"/>
<circle cx="39.4" cy="233.2" r="0.81" fill="#d2d2d2"/>
<circle cx="33.5" cy="247.1" r="0.61" fill="#d2d2d2"/>
<circle cx="42.3" cy="251.5" r="0.82" fill="#d2d2d2"/>
<circle cx="40.0" cy="248.8" r="0.41" fill="#a6a6a6"/>
<circle cx="27.2" cy="253.8" r="0.75" fill="#d2d2d2"/>
<circle cx="32.2" cy="252.5" r="0.98" fill="#d2d2d2"/>
<circle cx="45.1" cy="232.1" r="0.97" fill="#d2d2d2"/>
<circle cx="31.8" cy="254.4" r="0.69" fill="#a6a6a6"/>
<circle cx="31.5" cy="242.9" r="0.91" fill="#d2d2d2"/>
<circle cx="23.6" cy="242.3" r="0.57" fill="#d2d2d2"/>
<circle cx="31.2" cy="248.3" r="0.63" fill="#d2d2d2"/>
<circle cx="27.2" cy="240.1" r="0.75" fill="#a6a6a6"/>
<circle cx="25.2" cy="245.2" r="0.69" fill="#a6a6a6"/>
<circle cx="45.1" cy="244.8" r="0.40" fill="#d2d2d2"/>
<circle cx="36.2" cy="246.4" r="0.52" fill="#a6a6a6"/>
<circle cx="33.4" cy="245.6" r="0.95" fill="#d2d2d2"/>
<circle cx="42.5" cy="247.0" r="0.58" fill="#a6a6a6"/>
<circle cx="30.9" cy="247.9" r="0.58" fill="#a6a6a6"/>
<circle cx="42.8" cy="230.4" r="0.44" fill="#d2d2d2"/>
<circle cx="40.5" cy="231.3" r="0.91" fill="#a6a6a6"/>
<circle cx="47.8" cy="238.9" r="0.43" fill="#d2d2d2"/>
<circle cx="41.4" cy="229.6" r="0.96" fill="#d2d2d2"/>
<circle cx="46.0" cy="243.9" r="0.71" fill="#a6a6a6"/>
<circle cx="41.2" cy="239.1" r="0.55" fill="#d2d2d2"/>
<circle cx="38.8" cy="253.2" r="0.90" fill="#a6a6a6"/>
<circle cx="44.2" cy="247.9" r="0.59" fill="#d2d2d2"/>
<circle cx="35.1" cy="235.5" r="0.78" fill="#a6a6a6"/>
<circle cx="25.4" cy="245.5" r="0.83" fill="#d2d2d2"/>
<circle cx="29.6" cy="253.6" r="0.42" fill="#d2d2d2"/>
<circle cx="33.7" cy="246.0" r="0.73" fill="#a6a6a6"/>
<circle cx="29.2" cy="244.8" r="0.73" fill="#a6a6a6"/>
<circle cx="24.6" cy="251.7" r="0.91" fill="#a6a6a6"/>
<circle cx="41.3" cy="253.6" r="0.58" fill="#a6a6a6"/>
<circle cx="34.4" cy="236.2" r="0.78" fill="#a6a6a6"/>
<circle cx="45.7" cy="248.4" r="0.54" fill="#a6a6a6"/>
<circle cx="42.6" cy="240.2" r="0.75" fill="#d2d2d2"/>
<circle cx="28.4" cy="245.9" r="0.49" fill="#a6a6a6"/>
<circle cx="39.1" cy="230.2" r="0.51" fill="#a6a6a6"/>
<circle cx="39.8" cy="252.4" r="0.44" fill="#a6a6a6"/>
<circle cx="46.6" cy="241.6" r="1.00" fill="#a6a6a6"/>
<circle cx="39.2" cy="250.8" r="0.45" fill="#a6a6a6"/>
<circle cx="43.2" cy="243.7" r="0.56" fill="#d2d2d2"/>
<circle cx="41.0" cy="239.0" r="0.54" fill="#d2d2d2"/>
<circle cx="23.5" cy="240.7" r="0.59" fill="#d2d2d2"/>
<circle cx="34.6" cy="239.8" r="0.66" fill="#d2d2d2"/>
<circle cx="32.3" cy="249.4" r="0.89" fill="#d2d2d2"/>
<circle cx="42.0" cy="250.4" r="0.78" fill="#a6a6a6"/>
<circle cx="43.8" cy="248.6" r="0.83" fill="#d2d2d2"/>
<circle cx="26.4" cy="238.1" r="0.89" fill="#d2d2d2"/>
<circle cx="44.2" cy="240.4" r="0.47" fill="#a6a6a6"/>
<circle cx="26.3" cy="233.3" r="0.79" fill="#a6a6a6"/>
<circle cx="30.1" cy="231.5" r="0.91" fill="#a6a6a6"/>
<circle cx="37.2" cy="235.7" r="0.77" fill="#d2d2d2"/>
<circle cx="41.6" cy="253.9" r="0.83" fill="#d2d2d2"/>
<circle cx="29.3" cy="255.9" r="0.56" fill="#d2d2d2"/>
<circle cx="27.4" cy="241.1" r="0.61" fill="#a6a6a6"/>
<circle cx="38.1" cy="246.6" r="0.86" fill="#d2d2d2"/>
<circle cx="30.6" cy="236.6" r="0.64" fill="#d2d2d2"/>
<circle cx="32.7" cy="236.8" r="0.41" fill="#a6a6a6"/>
<circle cx="40.7" cy="233.7" r="0.94" fill="#d2d2d2"/>
<circle cx="29.5" cy="237.8" r="0.50" fill="#d2d2d2"/>
<circle cx="35.3" cy="249.0" r="0.46" fill="#a6a6a6"/>
<circle cx="40.4" cy="248.0" r="0.77" fill="#a6a6a6"/>
<circle cx="37.2" cy="252.6" r="0.87" fill="#a6a6a6"/>
<circle cx="40.9" cy="232.7" r="0.80" fill="#a6a6a6"/>
<circle cx="38.3" cy="250.8" r="0.70" fill="#d2d2d2"/>
<circle cx="35.0" cy="249.6" r="0.48" fill="#d2d2d2"/>
<circle cx="41.2" cy="232.0" r="1.00" fill="#d2d2d2"/>
<circle cx="32.5" cy="255.6" r="0.44" fill="#d2d2d2"/>
<circle cx="33.8" cy="256.2" r="0.46" fill="#d2d2d2"/>
<circle cx="30.5" cy="255.5" r="0.83" fill="#a6a6a6"/>
<circle cx="31.4" cy="231.3" r="0.51" fill="#a6a6a6"/>
<circle cx="34.3" cy="240.9" r="0.73" fill="#d2d2d2"/>
<circle cx="23.9" cy="239.0" r="0.65" fill="#d2d2d2"/>
<circle cx="23.5" cy="248.8" r="0.61" fill="#a6a6a6"/>
<circle cx="22.5" cy="239.0" r="0.51" fill="#a6a6a6"/>
<circle cx="42.9" cy="244.3" r="0.44" fill="#a6a6a6"/>
<circle cx="34.6" cy="253.8" r="0.81" fill="#a6a6a6"/>
<circle cx="29.8" cy="244.8" r="0.94" fill="#d2d2d2"/>
<circle cx="32.3" cy="233.0" r="0.41" fill="#a6a6a6"/>
<circle cx="30.0" cy="237.9" r="0.94" fill="#d2d2d2"/>
<circle cx="37.5" cy="246.5" r="0.87" fill="#a6a6a6"/>
<circle cx="27.5" cy="233.8" r="0.91" fill="#d2d2d2"/>
<circle cx="35.1" cy="256.3" r="0.86" fill="#a6a6a6"/>
<circle cx="31.1" cy="239.9" r="0.90" fill="#d2d2d2"/>
<circle cx="45.0" cy="232.1" r="0.66" fill="#d2d2d2"/>
<circle cx="29.2" cy="234.1" r="0.45" fill="#a6a6a6"/>
<circle cx="22.6" cy="242.4" r="0.56" fill="#a6a6a6"/>
<circle cx="42.5" cy="249.3" r="0.55" fill="#d2d2d2"/>
<circle cx="36.3" cy="237.1" r="0.53" fill="#a6a6a6"/>
<circle cx="44.7" cy="234.5" r="0.68" fill="#d2d2d2"/>
<circle cx="40.2" cy="249.3" r="0.41" fill="#a6a6a6"/>
<circle cx="38.9" cy="236.1" r="0.66" fill="#d2d2d2"/>
<circle cx="30.3" cy="231.3" r="1.00" fill="#d2d2d2"/>
<circle cx="30.6" cy="252.1" r="0.92" fill="#d2d2d2"/>
<circle cx="40.2" cy="245.4" r="0.74" fill="#d2d2d2"/>
<circle cx="36.6" cy="255.7" r="0.56" fill="#a6a6a6"/>
<circle cx="22.7" cy="245.3" r="0.48" fill="#d2d2d2"/>
<circle cx="37.5" cy="237.5" r="0.66" fill="#d2d2d2"/>
<circle cx="45.9" cy="237.1" r="0.46" fill="#a6a6a6"/>
<circle cx="39.4" cy="252.1" r="0.84" fill="#d2d2d2"/>
<circle cx="29.9" cy="243.0" r="0.58" fill="#d2d2d2"/>
<circle cx="42.0" cy="239.6" r="0.56" fill="#a6a6a6"/>
<circle cx="28.2" cy="232.3" r="0.66" fill="#d2d2d2"/>
<circle cx="40.6" cy="241.6" r="0.54" fill="#a6a6a6"/>
<circle cx="40.2" cy="248.9" r="0.43" fill="#d2d2d2"/>
<circle cx="37.2" cy="243.9" r="0.91" fill="#d2d2d2"/>
<circle cx="41.0" cy="230.3" r="0.57" fill="#d2d2d2"/>
<circle cx="35.5" cy="253.1" r="0.82" fill="#d2d2d2"/>
<circle cx="30.8" cy="249.4" r="0.82" fill="#d2d2d2"/>
<circle cx="37.3" cy="250.1" r="0.73" fill="#d2d2d2"/>
<circle cx="26.4" cy="233.1" r="0.74" fill="#d2d2d2"/>
<circle cx="44.0" cy="247.5" r="0.77" fill="#a6a6a6"/>
<circle cx="26.0" cy="247.1" r="0.85" fill="#a6a6a6"/>
<circle cx="35.2" cy="239.9" r="0.77" fill="#d2d2d2"/>
<circle cx="38.1" cy="236.2" r="0.73" fill="#d2d2d2"/>
<circle cx="21.5" cy="244.6" r="0.96" fill="#a6a6a6"/>
<circle cx="33.5" cy="239.7" r="0.76" fill="#a6a6a6"/>
<circle cx="34.3" cy="255.2" r="0.46" fill="#a6a6a6"/>
<ellipse cx="34.9" cy="242.6" rx="13.10" ry="15.10" transform="rotate(35.5 34.9 242.6)" fill="none" stroke="#e2e2e2" stroke-width="0.7" opacity="0.8"/>
<ellipse cx="34.9" cy="242.6" rx="14.80" ry="16.80" transform="rotate(35.5 34.9 242.6)" fill="none" stroke="#e4e4e4" stroke-width="0.8" opacity="0.8"/>
<ellipse cx="34.9" cy="242.6" rx="14.00" ry="16.00" transform="rotate(35.5 34.9 242.6)" fill="none" stroke="#5a5a5a" stroke-width="0.75"/><ellipse cx="48.2" cy="226.6" rx="2.0" ry="3.0" transform="rotate(40 48.2 226.6)" fill="#e6e6e6" stroke="#a8a8a8" stroke-width="0.4"/></g>
<rect x="15.10" y="221.30" width="39.20" height="38.90" fill="none" stroke="#dedede" stroke-width="0.5" />
<rect x="14.10" y="220.30" width="41.20" height="40.90" fill="none" stroke="#424242" stroke-width="1.35" rx="0.8"/>
<rect x="17.00" y="257.15" width="10.40" height="1.45" fill="#2a2a2a" stroke="none" stroke-width="0" />
<rect x="65.58" y="220.30" width="41.20" height="40.90" fill="#cdcdcd" stroke="none" stroke-width="0" />
<g filter="url(#b1)"><ellipse cx="85.3" cy="243.3" rx="8.40" ry="10.00" transform="rotate(8.6 85.3 243.3)" fill="#d0d0d0" stroke="#d4d4d4" stroke-width="1.2"/>
<circle cx="84.3" cy="244.4" r="0.95" fill="#d2d2d2"/>
<circle cx="85.2" cy="245.0" r="0.51" fill="#a9a9a9"/>
<circle cx="86.6" cy="249.4" r="0.46" fill="#d2d2d2"/>
<circle cx="87.5" cy="246.0" r="0.49" fill="#d2d2d2"/>
<circle cx="87.1" cy="234.7" r="0.51" fill="#d2d2d2"/>
<circle cx="83.3" cy="249.9" r="0.71" fill="#a9a9a9"/>
<circle cx="84.8" cy="246.5" r="0.67" fill="#d2d2d2"/>
<circle cx="90.3" cy="248.3" r="0.59" fill="#d2d2d2"/>
<circle cx="90.0" cy="242.0" r="0.91" fill="#d2d2d2"/>
<circle cx="92.2" cy="243.7" r="0.99" fill="#d2d2d2"/>
<circle cx="77.8" cy="244.8" r="0.87" fill="#d2d2d2"/>
<circle cx="78.9" cy="239.0" r="0.98" fill="#a9a9a9"/>
<circle cx="79.7" cy="237.3" r="0.46" fill="#d2d2d2"/>
<circle cx="91.2" cy="237.7" r="0.74" fill="#d2d2d2"/>
<circle cx="79.5" cy="247.1" r="0.48" fill="#a9a9a9"/>
<circle cx="79.2" cy="240.8" r="0.53" fill="#d2d2d2"/>
<circle cx="80.9" cy="250.4" r="0.53" fill="#d2d2d2"/>
<circle cx="90.8" cy="247.0" r="0.46" fill="#a9a9a9"/>
<circle cx="81.3" cy="237.8" r="0.86" fill="#d2d2d2"/>
<circle cx="78.2" cy="243.9" r="0.55" fill="#a9a9a9"/>
<circle cx="83.3" cy="242.1" r="0.98" fill="#d2d2d2"/>
<circle cx="85.4" cy="250.7" r="0.51" fill="#d2d2d2"/>
<circle cx="82.1" cy="236.5" r="0.84" fill="#a9a9a9"/>
<circle cx="91.3" cy="246.3" r="0.65" fill="#d2d2d2"/>
<circle cx="80.3" cy="246.7" r="0.55" fill="#a9a9a9"/>
<circle cx="87.5" cy="239.5" r="0.51" fill="#a9a9a9"/>
<circle cx="85.2" cy="250.4" r="0.77" fill="#d2d2d2"/>
<circle cx="85.7" cy="234.5" r="0.51" fill="#d2d2d2"/>
<circle cx="87.6" cy="236.2" r="0.62" fill="#a9a9a9"/>
<circle cx="88.2" cy="245.4" r="0.48" fill="#d2d2d2"/>
<circle cx="84.3" cy="247.8" r="0.59" fill="#a9a9a9"/>
<circle cx="78.1" cy="243.1" r="0.84" fill="#a9a9a9"/>
<circle cx="88.6" cy="247.9" r="0.88" fill="#a9a9a9"/>
<circle cx="82.3" cy="246.6" r="0.94" fill="#a9a9a9"/>
<circle cx="83.1" cy="248.8" r="0.92" fill="#a9a9a9"/>
<circle cx="87.7" cy="241.3" r="0.75" fill="#a9a9a9"/>
<circle cx="77.9" cy="245.0" r="1.00" fill="#a9a9a9"/>
<circle cx="89.4" cy="241.7" r="0.84" fill="#a9a9a9"/>
<circle cx="83.3" cy="249.8" r="0.45" fill="#a9a9a9"/>
<circle cx="85.8" cy="237.9" r="0.82" fill="#d2d2d2"/>
<circle cx="85.9" cy="251.9" r="0.55" fill="#d2d2d2"/>
<circle cx="81.5" cy="246.3" r="0.52" fill="#d2d2d2"/>
<circle cx="91.6" cy="247.5" r="0.67" fill="#a9a9a9"/>
<circle cx="81.9" cy="246.1" r="0.52" fill="#d2d2d2"/>
<circle cx="92.0" cy="242.0" r="0.75" fill="#d2d2d2"/>
<circle cx="79.3" cy="242.3" r="0.90" fill="#a9a9a9"/>
<circle cx="82.6" cy="236.2" r="0.67" fill="#d2d2d2"/>
<circle cx="80.8" cy="240.9" r="0.78" fill="#d2d2d2"/>
<circle cx="81.2" cy="249.5" r="0.99" fill="#d2d2d2"/>
<circle cx="88.6" cy="245.2" r="0.59" fill="#a9a9a9"/>
<circle cx="91.6" cy="238.9" r="0.48" fill="#d2d2d2"/>
<circle cx="87.6" cy="242.6" r="0.78" fill="#a9a9a9"/>
<circle cx="89.3" cy="237.8" r="0.69" fill="#d2d2d2"/>
<circle cx="89.8" cy="237.5" r="0.56" fill="#d2d2d2"/>
<circle cx="88.5" cy="244.2" r="0.77" fill="#a9a9a9"/>
<circle cx="82.7" cy="248.8" r="0.94" fill="#d2d2d2"/>
<circle cx="79.3" cy="241.5" r="0.78" fill="#a9a9a9"/>
<circle cx="83.0" cy="244.4" r="0.93" fill="#a9a9a9"/>
<circle cx="92.8" cy="243.7" r="0.79" fill="#d2d2d2"/>
<circle cx="88.0" cy="250.2" r="0.78" fill="#a9a9a9"/>
<circle cx="85.0" cy="249.1" r="0.59" fill="#a9a9a9"/>
<circle cx="91.7" cy="241.2" r="0.45" fill="#d2d2d2"/>
<circle cx="85.3" cy="248.7" r="0.69" fill="#d2d2d2"/>
<circle cx="91.3" cy="237.6" r="0.60" fill="#a9a9a9"/>
<circle cx="84.9" cy="247.8" r="0.90" fill="#a9a9a9"/>
<circle cx="92.7" cy="244.3" r="0.97" fill="#d2d2d2"/>
<circle cx="80.6" cy="243.1" r="0.57" fill="#a9a9a9"/>
<circle cx="87.5" cy="244.1" r="0.91" fill="#a9a9a9"/>
<circle cx="82.5" cy="240.5" r="0.91" fill="#a9a9a9"/>
<circle cx="79.4" cy="249.5" r="0.98" fill="#a9a9a9"/>
<circle cx="87.4" cy="237.6" r="0.72" fill="#a9a9a9"/>
<circle cx="82.7" cy="249.0" r="0.74" fill="#d2d2d2"/>
<circle cx="86.2" cy="241.7" r="0.97" fill="#a9a9a9"/>
<circle cx="81.5" cy="242.2" r="0.48" fill="#d2d2d2"/>
<circle cx="85.5" cy="239.6" r="0.51" fill="#a9a9a9"/>
<circle cx="81.0" cy="237.1" r="0.81" fill="#d2d2d2"/>
<circle cx="82.5" cy="245.3" r="0.46" fill="#a9a9a9"/>
<circle cx="79.0" cy="242.6" r="0.55" fill="#d2d2d2"/>
<circle cx="86.0" cy="242.1" r="0.63" fill="#d2d2d2"/>
<circle cx="86.8" cy="236.6" r="0.52" fill="#a9a9a9"/>
<ellipse cx="85.3" cy="243.3" rx="7.50" ry="9.10" transform="rotate(8.6 85.3 243.3)" fill="none" stroke="#e2e2e2" stroke-width="0.7" opacity="0.8"/>
<ellipse cx="85.3" cy="243.3" rx="9.20" ry="10.80" transform="rotate(8.6 85.3 243.3)" fill="none" stroke="#e4e4e4" stroke-width="0.8" opacity="0.8"/>
<ellipse cx="85.3" cy="243.3" rx="8.40" ry="10.00" transform="rotate(8.6 85.3 243.3)" fill="none" stroke="#404040" stroke-width="0.8"/><circle cx="80.0" cy="228.5" r="1.40" fill="none" stroke="#888" stroke-width="0.5"/><circle cx="82.5" cy="231.0" r="1.00" fill="none" stroke="#888" stroke-width="0.5"/><circle cx="94.5" cy="252.5" r="1.20" fill="none" stroke="#999" stroke-width="0.5"/><circle cx="76.5" cy="240.0" r="1.00" fill="none" stroke="#999" stroke-width="0.5"/></g>
<rect x="66.58" y="221.30" width="39.20" height="38.90" fill="none" stroke="#dedede" stroke-width="0.5" />
<rect x="65.58" y="220.30" width="41.20" height="40.90" fill="none" stroke="#424242" stroke-width="1.35" rx="0.8"/>
<rect x="68.48" y="257.15" width="10.40" height="1.45" fill="#2a2a2a" stroke="none" stroke-width="0" />
<rect x="117.06" y="220.30" width="41.20" height="40.90" fill="#cdcdcd" stroke="none" stroke-width="0" />
<g filter="url(#b1)"><ellipse cx="136.1" cy="240.9" rx="8.20" ry="9.90" transform="rotate(20.1 136.1 240.9)" fill="#d2d2d2" stroke="#d4d4d4" stroke-width="1.2"/>
<circle cx="134.6" cy="243.7" r="0.80" fill="#e6e6e6"/>
<circle cx="130.5" cy="245.4" r="0.81" fill="#b4b4b4"/>
<circle cx="135.9" cy="244.2" r="0.49" fill="#e6e6e6"/>
<circle cx="134.2" cy="238.2" r="0.91" fill="#e6e6e6"/>
<circle cx="139.0" cy="233.3" r="0.99" fill="#b4b4b4"/>
<circle cx="130.7" cy="237.3" r="0.48" fill="#e6e6e6"/>
<circle cx="140.3" cy="235.3" r="0.82" fill="#e6e6e6"/>
<circle cx="128.9" cy="244.9" r="0.64" fill="#e6e6e6"/>
<circle cx="137.7" cy="241.0" r="0.63" fill="#e6e6e6"/>
<circle cx="134.8" cy="237.5" r="0.81" fill="#b4b4b4"/>
<circle cx="133.9" cy="240.3" r="0.89" fill="#b4b4b4"/>
<circle cx="134.9" cy="240.9" r="0.53" fill="#e6e6e6"/>
<circle cx="132.5" cy="245.3" r="0.46" fill="#b4b4b4"/>
<circle cx="129.8" cy="242.7" r="0.42" fill="#e6e6e6"/>
<circle cx="132.8" cy="242.6" r="0.43" fill="#e6e6e6"/>
<circle cx="133.1" cy="235.2" r="0.69" fill="#b4b4b4"/>
<circle cx="132.7" cy="249.3" r="0.50" fill="#b4b4b4"/>
<circle cx="136.1" cy="234.4" r="0.85" fill="#b4b4b4"/>
<circle cx="141.3" cy="239.5" r="0.54" fill="#e6e6e6"/>
<circle cx="131.4" cy="245.2" r="0.90" fill="#b4b4b4"/>
<circle cx="131.7" cy="239.9" r="0.69" fill="#b4b4b4"/>
<circle cx="130.4" cy="246.7" r="0.57" fill="#b4b4b4"/>
<circle cx="135.0" cy="244.6" r="0.82" fill="#e6e6e6"/>
<circle cx="134.5" cy="235.1" r="0.81" fill="#b4b4b4"/>
<circle cx="136.6" cy="235.6" r="0.66" fill="#b4b4b4"/>
<circle cx="136.2" cy="243.6" r="0.95" fill="#b4b4b4"/>
<circle cx="140.7" cy="240.8" r="0.75" fill="#b4b4b4"/>
<circle cx="140.0" cy="244.0" r="0.61" fill="#e6e6e6"/>
<circle cx="139.3" cy="243.4" r="0.41" fill="#b4b4b4"/>
<circle cx="134.7" cy="246.5" r="0.63" fill="#e6e6e6"/>
<circle cx="135.1" cy="236.6" r="0.96" fill="#b4b4b4"/>
<circle cx="135.9" cy="243.4" r="0.47" fill="#b4b4b4"/>
<circle cx="139.9" cy="240.1" r="0.55" fill="#e6e6e6"/>
<circle cx="132.1" cy="243.4" r="0.49" fill="#e6e6e6"/>
<circle cx="131.9" cy="243.5" r="0.86" fill="#b4b4b4"/>
<circle cx="143.7" cy="240.8" r="0.42" fill="#e6e6e6"/>
<circle cx="137.4" cy="234.6" r="0.80" fill="#e6e6e6"/>
<circle cx="133.2" cy="236.2" r="0.97" fill="#e6e6e6"/>
<circle cx="135.4" cy="236.0" r="0.52" fill="#e6e6e6"/>
<circle cx="134.8" cy="244.6" r="0.50" fill="#e6e6e6"/>
<circle cx="135.4" cy="247.9" r="0.55" fill="#e6e6e6"/>
<circle cx="131.6" cy="240.1" r="0.86" fill="#e6e6e6"/>
<circle cx="137.7" cy="244.9" r="0.98" fill="#b4b4b4"/>
<circle cx="139.9" cy="239.1" r="0.84" fill="#e6e6e6"/>
<circle cx="137.0" cy="238.3" r="0.58" fill="#e6e6e6"/>
<circle cx="131.6" cy="240.2" r="0.55" fill="#e6e6e6"/>
<circle cx="142.2" cy="238.6" r="0.96" fill="#b4b4b4"/>
<circle cx="131.9" cy="247.2" r="0.94" fill="#e6e6e6"/>
<circle cx="129.4" cy="241.4" r="0.91" fill="#b4b4b4"/>
<circle cx="141.1" cy="240.9" r="0.77" fill="#e6e6e6"/>
<circle cx="135.5" cy="238.1" r="0.63" fill="#e6e6e6"/>
<circle cx="143.1" cy="236.5" r="0.52" fill="#e6e6e6"/>
<circle cx="132.3" cy="244.5" r="0.58" fill="#e6e6e6"/>
<circle cx="129.4" cy="243.0" r="0.58" fill="#e6e6e6"/>
<circle cx="132.5" cy="235.6" r="0.92" fill="#b4b4b4"/>
<circle cx="128.7" cy="242.1" r="0.72" fill="#e6e6e6"/>
<circle cx="135.5" cy="243.9" r="0.88" fill="#b4b4b4"/>
<circle cx="138.4" cy="241.1" r="0.78" fill="#e6e6e6"/>
<circle cx="134.7" cy="240.7" r="0.83" fill="#e6e6e6"/>
<circle cx="142.7" cy="243.1" r="0.91" fill="#b4b4b4"/>
<circle cx="135.6" cy="238.7" r="0.76" fill="#b4b4b4"/>
<circle cx="128.9" cy="242.2" r="0.77" fill="#b4b4b4"/>
<circle cx="137.7" cy="235.3" r="0.85" fill="#e6e6e6"/>
<circle cx="138.0" cy="237.7" r="0.55" fill="#e6e6e6"/>
<circle cx="143.7" cy="240.8" r="0.58" fill="#b4b4b4"/>
<circle cx="136.5" cy="244.6" r="0.41" fill="#e6e6e6"/>
<circle cx="134.3" cy="245.1" r="0.90" fill="#b4b4b4"/>
<circle cx="134.4" cy="237.8" r="0.92" fill="#b4b4b4"/>
<circle cx="137.9" cy="235.1" r="0.77" fill="#b4b4b4"/>
<circle cx="135.8" cy="235.1" r="0.63" fill="#b4b4b4"/>
<ellipse cx="136.1" cy="240.9" rx="7.30" ry="9.00" transform="rotate(20.1 136.1 240.9)" fill="none" stroke="#e2e2e2" stroke-width="0.7" opacity="0.8"/>
<ellipse cx="136.1" cy="240.9" rx="9.00" ry="10.70" transform="rotate(20.1 136.1 240.9)" fill="none" stroke="#e4e4e4" stroke-width="0.8" opacity="0.8"/>
<ellipse cx="136.1" cy="240.9" rx="8.20" ry="9.90" transform="rotate(20.1 136.1 240.9)" fill="none" stroke="#6a6a6a" stroke-width="0.6"/><circle cx="129.5" cy="238.0" r="1.30" fill="#eeeeee" stroke="#9a9a9a" stroke-width="0.3"/><circle cx="130.5" cy="246.0" r="1.20" fill="#eeeeee" stroke="#9a9a9a" stroke-width="0.3"/><circle cx="132.0" cy="243.0" r="0.90" fill="#ececec" stroke="#aaa" stroke-width="0.3"/></g>
<rect x="118.06" y="221.30" width="39.20" height="38.90" fill="none" stroke="#dedede" stroke-width="0.5" />
<rect x="117.06" y="220.30" width="41.20" height="40.90" fill="none" stroke="#424242" stroke-width="1.35" rx="0.8"/>
<rect x="119.96" y="257.15" width="10.40" height="1.45" fill="#2a2a2a" stroke="none" stroke-width="0" />
<rect x="168.54" y="220.30" width="41.20" height="40.90" fill="#d3d3d3" stroke="none" stroke-width="0" />
<g filter="url(#b1)"><ellipse cx="189.8" cy="245.6" rx="6.60" ry="7.60" transform="rotate(11.5 189.8 245.6)" fill="#cdcdcd" stroke="#d4d4d4" stroke-width="1.2"/>
<circle cx="186.1" cy="247.7" r="0.81" fill="#a9a9a9"/>
<circle cx="186.5" cy="240.8" r="0.49" fill="#d2d2d2"/>
<circle cx="193.9" cy="240.7" r="0.72" fill="#d2d2d2"/>
<circle cx="187.4" cy="244.0" r="0.90" fill="#a9a9a9"/>
<circle cx="192.9" cy="251.0" r="0.90" fill="#a9a9a9"/>
<circle cx="185.6" cy="250.2" r="0.69" fill="#a9a9a9"/>
<circle cx="190.8" cy="244.7" r="0.62" fill="#d2d2d2"/>
<circle cx="188.5" cy="239.4" r="0.89" fill="#a9a9a9"/>
<circle cx="189.8" cy="249.4" r="0.48" fill="#a9a9a9"/>
<circle cx="190.0" cy="240.6" r="0.52" fill="#a9a9a9"/>
<circle cx="186.7" cy="244.3" r="0.76" fill="#d2d2d2"/>
<circle cx="185.1" cy="244.5" r="0.54" fill="#d2d2d2"/>
<circle cx="186.3" cy="242.8" r="0.44" fill="#a9a9a9"/>
<circle cx="192.7" cy="251.4" r="0.78" fill="#d2d2d2"/>
<circle cx="187.6" cy="250.9" r="0.93" fill="#a9a9a9"/>
<circle cx="187.5" cy="248.5" r="0.48" fill="#a9a9a9"/>
<circle cx="190.5" cy="249.2" r="0.53" fill="#a9a9a9"/>
<circle cx="190.6" cy="247.2" r="0.62" fill="#a9a9a9"/>
<circle cx="188.4" cy="242.1" r="0.50" fill="#a9a9a9"/>
<circle cx="183.8" cy="246.6" r="0.73" fill="#a9a9a9"/>
<circle cx="189.0" cy="239.1" r="0.40" fill="#a9a9a9"/>
<circle cx="185.5" cy="241.7" r="0.56" fill="#a9a9a9"/>
<circle cx="184.4" cy="244.0" r="0.62" fill="#a9a9a9"/>
<circle cx="190.1" cy="245.3" r="0.80" fill="#d2d2d2"/>
<circle cx="186.1" cy="247.7" r="0.91" fill="#d2d2d2"/>
<circle cx="191.4" cy="243.7" r="0.55" fill="#d2d2d2"/>
<circle cx="186.4" cy="242.6" r="0.42" fill="#d2d2d2"/>
<circle cx="194.3" cy="241.7" r="0.69" fill="#a9a9a9"/>
<circle cx="188.3" cy="242.0" r="0.66" fill="#d2d2d2"/>
<circle cx="194.8" cy="242.3" r="0.58" fill="#d2d2d2"/>
<circle cx="188.2" cy="244.4" r="0.93" fill="#a9a9a9"/>
<circle cx="183.8" cy="244.9" r="0.48" fill="#a9a9a9"/>
<circle cx="186.3" cy="251.0" r="0.73" fill="#d2d2d2"/>
<circle cx="189.9" cy="243.6" r="0.61" fill="#a9a9a9"/>
<circle cx="185.4" cy="248.1" r="0.80" fill="#a9a9a9"/>
<circle cx="188.8" cy="251.9" r="0.66" fill="#a9a9a9"/>
<circle cx="190.3" cy="251.0" r="0.94" fill="#d2d2d2"/>
<circle cx="185.0" cy="245.2" r="0.89" fill="#a9a9a9"/>
<circle cx="188.4" cy="238.9" r="0.43" fill="#d2d2d2"/>
<circle cx="193.9" cy="240.3" r="0.83" fill="#a9a9a9"/>
<circle cx="188.5" cy="247.2" r="0.90" fill="#a9a9a9"/>
<circle cx="186.3" cy="249.0" r="0.47" fill="#d2d2d2"/>
<circle cx="185.9" cy="249.2" r="0.67" fill="#d2d2d2"/>
<circle cx="185.5" cy="250.2" r="0.91" fill="#d2d2d2"/>
<circle cx="190.3" cy="242.0" r="0.68" fill="#a9a9a9"/>
<circle cx="191.2" cy="241.1" r="0.63" fill="#d2d2d2"/>
<circle cx="185.6" cy="245.9" r="0.42" fill="#a9a9a9"/>
<circle cx="191.5" cy="243.0" r="0.93" fill="#d2d2d2"/>
<circle cx="189.1" cy="250.6" r="0.53" fill="#a9a9a9"/>
<circle cx="191.9" cy="244.9" r="0.98" fill="#d2d2d2"/>
<ellipse cx="189.8" cy="245.6" rx="5.70" ry="6.70" transform="rotate(11.5 189.8 245.6)" fill="none" stroke="#e2e2e2" stroke-width="0.7" opacity="0.8"/>
<ellipse cx="189.8" cy="245.6" rx="7.40" ry="8.40" transform="rotate(11.5 189.8 245.6)" fill="none" stroke="#e4e4e4" stroke-width="0.8" opacity="0.8"/>
<ellipse cx="189.8" cy="245.6" rx="6.60" ry="7.60" transform="rotate(11.5 189.8 245.6)" fill="none" stroke="#666" stroke-width="0.6"/><circle cx="189.0" cy="233.0" r="1.00" fill="none" stroke="#999" stroke-width="0.5"/><circle cx="192.5" cy="230.0" r="0.90" fill="none" stroke="#999" stroke-width="0.5"/><circle cx="187.0" cy="236.0" r="0.80" fill="none" stroke="#999" stroke-width="0.5"/></g>
<rect x="169.54" y="221.30" width="39.20" height="38.90" fill="none" stroke="#dedede" stroke-width="0.5" />
<rect x="168.54" y="220.30" width="41.20" height="40.90" fill="none" stroke="#424242" stroke-width="1.35" rx="0.8"/>
<rect x="171.44" y="257.15" width="10.40" height="1.45" fill="#2a2a2a" stroke="none" stroke-width="0" />
<rect x="220.02" y="220.30" width="41.20" height="40.90" fill="#cdcdcd" stroke="none" stroke-width="0" />
<g filter="url(#b2)"><circle cx="236.9" cy="248.9" r="0.89" fill="#bababa"/><circle cx="244.9" cy="248.0" r="0.68" fill="#d6d6d6"/><circle cx="240.5" cy="253.1" r="0.66" fill="#c4c4c4"/><circle cx="240.1" cy="239.8" r="0.98" fill="#a6a6a6"/><circle cx="237.4" cy="245.8" r="0.90" fill="#bababa"/><circle cx="239.0" cy="252.0" r="0.73" fill="#a6a6a6"/><circle cx="243.3" cy="252.4" r="0.91" fill="#b0b0b0"/><circle cx="242.9" cy="247.6" r="0.72" fill="#b0b0b0"/><circle cx="245.1" cy="244.5" r="0.90" fill="#c4c4c4"/><circle cx="241.3" cy="239.0" r="0.98" fill="#a6a6a6"/><circle cx="240.8" cy="248.6" r="0.85" fill="#d6d6d6"/><circle cx="241.6" cy="248.6" r="0.82" fill="#d6d6d6"/><circle cx="239.5" cy="243.9" r="0.75" fill="#b0b0b0"/><circle cx="238.8" cy="242.6" r="0.77" fill="#a6a6a6"/><circle cx="237.3" cy="248.9" r="0.84" fill="#b0b0b0"/><circle cx="246.1" cy="242.8" r="1.09" fill="#b0b0b0"/><circle cx="239.9" cy="246.2" r="1.06" fill="#c4c4c4"/><circle cx="240.1" cy="245.4" r="0.53" fill="#a6a6a6"/><circle cx="241.5" cy="239.7" r="0.73" fill="#b0b0b0"/><circle cx="242.2" cy="251.0" r="1.09" fill="#b0b0b0"/><circle cx="238.7" cy="246.9" r="1.05" fill="#c4c4c4"/><circle cx="244.7" cy="252.9" r="0.52" fill="#a6a6a6"/><circle cx="245.0" cy="250.6" r="0.59" fill="#bababa"/><circle cx="240.2" cy="242.4" r="1.08" fill="#a6a6a6"/><circle cx="242.6" cy="253.2" r="0.79" fill="#a6a6a6"/><circle cx="235.9" cy="247.7" r="0.76" fill="#c4c4c4"/><circle cx="236.6" cy="251.0" r="0.58" fill="#b0b0b0"/><circle cx="238.8" cy="243.7" r="0.83" fill="#d6d6d6"/><circle cx="244.5" cy="245.6" r="0.75" fill="#d6d6d6"/><circle cx="243.8" cy="248.0" r="0.71" fill="#a6a6a6"/><circle cx="243.9" cy="245.9" r="0.53" fill="#d6d6d6"/><circle cx="241.5" cy="254.2" r="0.69" fill="#b0b0b0"/><circle cx="244.2" cy="253.7" r="0.83" fill="#b0b0b0"/><circle cx="236.2" cy="247.7" r="0.60" fill="#b0b0b0"/><circle cx="241.3" cy="250.6" r="0.80" fill="#a6a6a6"/><circle cx="243.1" cy="244.9" r="0.83" fill="#bababa"/><circle cx="240.1" cy="236.8" r="0.57" fill="#d6d6d6"/><circle cx="241.2" cy="241.6" r="1.06" fill="#b0b0b0"/><circle cx="242.8" cy="250.3" r="0.69" fill="#bababa"/><circle cx="242.2" cy="251.6" r="0.77" fill="#b0b0b0"/><circle cx="240.4" cy="246.8" r="0.65" fill="#d6d6d6"/><circle cx="240.3" cy="249.2" r="0.65" fill="#a6a6a6"/><circle cx="245.6" cy="243.8" r="0.90" fill="#b0b0b0"/><circle cx="235.9" cy="248.3" r="0.91" fill="#c4c4c4"/><circle cx="245.4" cy="243.2" r="0.63" fill="#b0b0b0"/><circle cx="243.5" cy="248.9" r="0.61" fill="#c4c4c4"/><circle cx="241.4" cy="238.7" r="0.56" fill="#c4c4c4"/><circle cx="241.6" cy="250.0" r="0.71" fill="#d6d6d6"/><circle cx="242.3" cy="254.6" r="0.53" fill="#a6a6a6"/><circle cx="247.1" cy="245.4" r="0.59" fill="#a6a6a6"/><circle cx="240.2" cy="240.6" r="0.90" fill="#bababa"/><circle cx="238.2" cy="250.3" r="1.10" fill="#a6a6a6"/><circle cx="238.4" cy="252.2" r="1.01" fill="#a6a6a6"/><circle cx="241.6" cy="246.9" r="0.71" fill="#c4c4c4"/><circle cx="238.7" cy="252.2" r="0.88" fill="#c4c4c4"/><circle cx="241.0" cy="234.8" r="0.68" fill="#c4c4c4"/><circle cx="240.5" cy="246.7" r="0.57" fill="#b0b0b0"/><circle cx="241.1" cy="250.3" r="0.96" fill="#b0b0b0"/><circle cx="244.5" cy="245.7" r="1.06" fill="#b0b0b0"/><circle cx="243.1" cy="238.7" r="0.82" fill="#a6a6a6"/><circle cx="240.3" cy="245.4" r="0.58" fill="#d6d6d6"/><circle cx="242.6" cy="239.2" r="1.04" fill="#b0b0b0"/><circle cx="237.2" cy="245.9" r="0.69" fill="#a6a6a6"/><circle cx="236.3" cy="248.2" r="1.08" fill="#c4c4c4"/><circle cx="237.1" cy="244.9" r="1.01" fill="#bababa"/><circle cx="241.3" cy="254.4" r="0.97" fill="#c4c4c4"/><circle cx="240.3" cy="239.5" r="0.56" fill="#a6a6a6"/><circle cx="244.5" cy="253.6" r="0.60" fill="#c4c4c4"/><circle cx="241.0" cy="238.2" r="1.08" fill="#d6d6d6"/><circle cx="243.5" cy="244.4" r="0.61" fill="#d6d6d6"/><circle cx="242.4" cy="248.8" r="0.68" fill="#bababa"/><circle cx="244.4" cy="247.9" r="0.65" fill="#a6a6a6"/><circle cx="245.0" cy="248.0" r="0.69" fill="#c4c4c4"/><circle cx="242.7" cy="239.0" r="1.08" fill="#bababa"/><circle cx="237.8" cy="245.8" r="0.99" fill="#a6a6a6"/><circle cx="239.0" cy="244.5" r="0.96" fill="#b0b0b0"/><circle cx="241.8" cy="237.6" r="0.63" fill="#c4c4c4"/><circle cx="237.1" cy="247.6" r="0.52" fill="#a6a6a6"/><circle cx="239.7" cy="243.2" r="0.67" fill="#c4c4c4"/><circle cx="243.9" cy="254.7" r="0.54" fill="#bababa"/><circle cx="241.2" cy="253.7" r="0.73" fill="#d6d6d6"/><circle cx="236.7" cy="246.8" r="0.62" fill="#a6a6a6"/><circle cx="241.7" cy="254.0" r="1.07" fill="#d6d6d6"/><circle cx="244.6" cy="243.8" r="0.72" fill="#a6a6a6"/><circle cx="241.6" cy="249.8" r="0.73" fill="#c4c4c4"/><circle cx="245.9" cy="253.5" r="0.89" fill="#d6d6d6"/><circle cx="240.8" cy="253.5" r="1.01" fill="#a6a6a6"/><circle cx="238.1" cy="248.7" r="0.73" fill="#bababa"/><circle cx="239.3" cy="253.6" r="0.52" fill="#c4c4c4"/><circle cx="244.8" cy="245.9" r="0.96" fill="#bababa"/><ellipse cx="241" cy="237.8" rx="1.8" ry="2.2" fill="#a4a4a4"/></g>
<rect x="221.02" y="221.30" width="39.20" height="38.90" fill="none" stroke="#dedede" stroke-width="0.5" />
<rect x="220.02" y="220.30" width="41.20" height="40.90" fill="none" stroke="#424242" stroke-width="1.35" rx="0.8"/>
<rect x="222.92" y="257.15" width="10.40" height="1.45" fill="#2a2a2a" stroke="none" stroke-width="0" />
<text x="139.80" y="275.75" font-size="10.3" text-anchor="start" class="h"  textLength="46.0" lengthAdjust="spacingAndGlyphs">CsA (μM)</text>
<line x1="66.00" y1="279.35" x2="260.80" y2="279.35" stroke="#000" stroke-width="1.45" />
<text x="86.18" y="287.45" font-size="7.3" text-anchor="middle" class="m"  textLength="14.9" lengthAdjust="spacingAndGlyphs">12.5</text>
<text x="137.66" y="287.45" font-size="7.3" text-anchor="middle" class="m"  textLength="9.5" lengthAdjust="spacingAndGlyphs">25</text>
<text x="189.14" y="287.45" font-size="7.3" text-anchor="middle" class="m"  textLength="9.0" lengthAdjust="spacingAndGlyphs">50</text>
<text x="240.62" y="287.45" font-size="7.3" text-anchor="middle" class="m"  textLength="13.4" lengthAdjust="spacingAndGlyphs">100</text>
<rect x="65.58" y="289.60" width="41.20" height="40.90" fill="#cdcdcd" stroke="none" stroke-width="0" />
<g filter="url(#b1)"><ellipse cx="91.6" cy="308.1" rx="5.40" ry="6.30" transform="rotate(5.7 91.6 308.1)" fill="#d6d6d6" stroke="#d4d4d4" stroke-width="1.2"/>
<circle cx="94.6" cy="304.1" r="0.99" fill="#d2d2d2"/>
<circle cx="95.4" cy="310.8" r="0.91" fill="#a9a9a9"/>
<circle cx="89.0" cy="305.8" r="0.82" fill="#d2d2d2"/>
<circle cx="89.4" cy="304.4" r="0.91" fill="#a9a9a9"/>
<circle cx="95.1" cy="305.0" r="0.95" fill="#a9a9a9"/>
<circle cx="88.8" cy="307.3" r="0.65" fill="#d2d2d2"/>
<circle cx="92.5" cy="306.4" r="0.74" fill="#a9a9a9"/>
<circle cx="93.3" cy="307.1" r="0.92" fill="#a9a9a9"/>
<circle cx="90.9" cy="313.7" r="0.41" fill="#d2d2d2"/>
<circle cx="93.4" cy="311.1" r="0.57" fill="#d2d2d2"/>
<circle cx="90.8" cy="312.3" r="0.73" fill="#d2d2d2"/>
<circle cx="92.0" cy="304.1" r="0.97" fill="#d2d2d2"/>
<circle cx="89.0" cy="305.4" r="0.89" fill="#d2d2d2"/>
<circle cx="96.2" cy="306.5" r="0.66" fill="#d2d2d2"/>
<circle cx="91.8" cy="303.3" r="0.70" fill="#d2d2d2"/>
<circle cx="94.5" cy="305.7" r="0.42" fill="#a9a9a9"/>
<circle cx="91.6" cy="307.9" r="0.99" fill="#d2d2d2"/>
<circle cx="92.4" cy="307.7" r="0.87" fill="#a9a9a9"/>
<circle cx="94.0" cy="305.2" r="0.45" fill="#d2d2d2"/>
<circle cx="89.6" cy="309.8" r="0.63" fill="#d2d2d2"/>
<circle cx="92.6" cy="310.8" r="0.76" fill="#d2d2d2"/>
<circle cx="94.7" cy="312.2" r="0.94" fill="#a9a9a9"/>
<circle cx="90.1" cy="306.5" r="0.71" fill="#d2d2d2"/>
<circle cx="89.3" cy="313.1" r="0.81" fill="#d2d2d2"/>
<circle cx="89.5" cy="309.2" r="0.82" fill="#d2d2d2"/>
<circle cx="95.2" cy="311.4" r="0.46" fill="#a9a9a9"/>
<circle cx="92.6" cy="306.1" r="0.94" fill="#d2d2d2"/>
<circle cx="87.5" cy="305.7" r="0.84" fill="#a9a9a9"/>
<circle cx="90.9" cy="313.2" r="0.64" fill="#a9a9a9"/>
<circle cx="87.7" cy="309.7" r="0.90" fill="#a9a9a9"/>
<ellipse cx="91.6" cy="308.1" rx="4.50" ry="5.40" transform="rotate(5.7 91.6 308.1)" fill="none" stroke="#e2e2e2" stroke-width="0.7" opacity="0.8"/>
<ellipse cx="91.6" cy="308.1" rx="6.20" ry="7.10" transform="rotate(5.7 91.6 308.1)" fill="none" stroke="#e4e4e4" stroke-width="0.8" opacity="0.8"/>
<ellipse cx="91.6" cy="308.1" rx="5.40" ry="6.30" transform="rotate(5.7 91.6 308.1)" fill="none" stroke="#3a3a3a" stroke-width="0.8"/><circle cx="82.0" cy="306.5" r="1.30" fill="#e6e6e6" stroke="#808080" stroke-width="0.45"/><circle cx="84.5" cy="309.5" r="1.20" fill="#e6e6e6" stroke="#808080" stroke-width="0.45"/><circle cx="81.5" cy="311.5" r="1.10" fill="#e6e6e6" stroke="#808080" stroke-width="0.45"/><circle cx="84.5" cy="313.0" r="1.00" fill="#e6e6e6" stroke="#808080" stroke-width="0.45"/><circle cx="87.0" cy="312.0" r="0.90" fill="#e6e6e6" stroke="#808080" stroke-width="0.45"/><circle cx="86.5" cy="304.5" r="0.80" fill="#e6e6e6" stroke="#808080" stroke-width="0.45"/></g>
<rect x="66.58" y="290.60" width="39.20" height="38.90" fill="none" stroke="#dedede" stroke-width="0.5" />
<rect x="65.58" y="289.60" width="41.20" height="40.90" fill="none" stroke="#424242" stroke-width="1.35" rx="0.8"/>
<rect x="68.48" y="326.45" width="10.40" height="1.45" fill="#2a2a2a" stroke="none" stroke-width="0" />
<rect x="117.06" y="289.60" width="41.20" height="40.90" fill="#cdcdcd" stroke="none" stroke-width="0" />
<g filter="url(#b1)"><ellipse cx="135.3" cy="307.6" rx="5.00" ry="6.30" transform="rotate(5.7 135.3 307.6)" fill="#d6d6d6" stroke="#d4d4d4" stroke-width="1.2"/>
<circle cx="133.9" cy="307.2" r="0.65" fill="#d2d2d2"/>
<circle cx="134.2" cy="309.5" r="0.56" fill="#a9a9a9"/>
<circle cx="134.1" cy="302.9" r="0.85" fill="#d2d2d2"/>
<circle cx="138.2" cy="310.0" r="0.42" fill="#d2d2d2"/>
<circle cx="136.8" cy="305.2" r="0.53" fill="#d2d2d2"/>
<circle cx="132.5" cy="311.0" r="0.61" fill="#d2d2d2"/>
<circle cx="138.2" cy="308.2" r="0.54" fill="#d2d2d2"/>
<circle cx="133.4" cy="306.9" r="0.44" fill="#a9a9a9"/>
<circle cx="138.7" cy="307.8" r="0.95" fill="#d2d2d2"/>
<circle cx="138.3" cy="307.3" r="0.77" fill="#d2d2d2"/>
<circle cx="132.8" cy="306.2" r="0.62" fill="#a9a9a9"/>
<circle cx="137.0" cy="306.5" r="0.59" fill="#a9a9a9"/>
<circle cx="136.4" cy="311.7" r="0.54" fill="#d2d2d2"/>
<circle cx="138.4" cy="303.5" r="0.78" fill="#d2d2d2"/>
<circle cx="135.0" cy="312.9" r="0.46" fill="#d2d2d2"/>
<circle cx="134.7" cy="310.5" r="0.68" fill="#d2d2d2"/>
<circle cx="136.4" cy="313.1" r="0.70" fill="#d2d2d2"/>
<circle cx="132.6" cy="306.3" r="0.46" fill="#d2d2d2"/>
<circle cx="134.2" cy="311.8" r="0.54" fill="#a9a9a9"/>
<circle cx="139.1" cy="307.1" r="0.53" fill="#d2d2d2"/>
<circle cx="136.6" cy="311.9" r="0.92" fill="#d2d2d2"/>
<circle cx="133.6" cy="304.8" r="0.47" fill="#d2d2d2"/>
<circle cx="135.2" cy="308.0" r="0.68" fill="#a9a9a9"/>
<circle cx="135.3" cy="307.5" r="0.45" fill="#a9a9a9"/>
<circle cx="136.7" cy="310.6" r="0.59" fill="#d2d2d2"/>
<circle cx="138.1" cy="310.8" r="0.43" fill="#d2d2d2"/>
<circle cx="131.8" cy="309.9" r="0.64" fill="#d2d2d2"/>
<circle cx="132.6" cy="306.7" r="0.83" fill="#a9a9a9"/>
<circle cx="132.7" cy="306.0" r="0.77" fill="#d2d2d2"/>
<circle cx="137.0" cy="303.3" r="0.97" fill="#a9a9a9"/>
<ellipse cx="135.3" cy="307.6" rx="4.10" ry="5.40" transform="rotate(5.7 135.3 307.6)" fill="none" stroke="#e2e2e2" stroke-width="0.7" opacity="0.8"/>
<ellipse cx="135.3" cy="307.6" rx="5.80" ry="7.10" transform="rotate(5.7 135.3 307.6)" fill="none" stroke="#e4e4e4" stroke-width="0.8" opacity="0.8"/>
<ellipse cx="135.3" cy="307.6" rx="5.00" ry="6.30" transform="rotate(5.7 135.3 307.6)" fill="none" stroke="#3a3a3a" stroke-width="0.8"/><circle cx="134.5" cy="315.5" r="1.00" fill="#e2e2e2" stroke="#8a8a8a" stroke-width="0.45"/><circle cx="137.5" cy="316.5" r="1.10" fill="#e2e2e2" stroke="#8a8a8a" stroke-width="0.45"/><circle cx="139.5" cy="319.5" r="1.30" fill="#e2e2e2" stroke="#8a8a8a" stroke-width="0.45"/><circle cx="136.0" cy="320.5" r="0.90" fill="#e2e2e2" stroke="#8a8a8a" stroke-width="0.45"/></g>
<rect x="118.06" y="290.60" width="39.20" height="38.90" fill="none" stroke="#dedede" stroke-width="0.5" />
<rect x="117.06" y="289.60" width="41.20" height="40.90" fill="none" stroke="#424242" stroke-width="1.35" rx="0.8"/>
<rect x="119.96" y="326.45" width="10.40" height="1.45" fill="#2a2a2a" stroke="none" stroke-width="0" />
<rect x="168.54" y="289.60" width="41.20" height="40.90" fill="#cdcdcd" stroke="none" stroke-width="0" />
<g filter="url(#b1)"><ellipse cx="190.2" cy="315.5" rx="4.60" ry="5.20" transform="rotate(5.7 190.2 315.5)" fill="#d4d4d4" stroke="#d4d4d4" stroke-width="1.2"/>
<circle cx="190.1" cy="318.7" r="0.98" fill="#d2d2d2"/>
<circle cx="192.4" cy="317.9" r="0.80" fill="#d2d2d2"/>
<circle cx="192.7" cy="313.2" r="0.70" fill="#d2d2d2"/>
<circle cx="192.0" cy="316.3" r="0.97" fill="#d2d2d2"/>
<circle cx="190.2" cy="319.5" r="0.78" fill="#d2d2d2"/>
<circle cx="188.8" cy="318.2" r="0.92" fill="#d2d2d2"/>
<circle cx="190.2" cy="320.3" r="0.72" fill="#d2d2d2"/>
<circle cx="187.8" cy="318.3" r="0.52" fill="#a9a9a9"/>
<circle cx="190.7" cy="316.1" r="0.48" fill="#a9a9a9"/>
<circle cx="194.2" cy="314.0" r="0.60" fill="#a9a9a9"/>
<circle cx="191.2" cy="313.2" r="0.41" fill="#a9a9a9"/>
<circle cx="188.8" cy="315.0" r="0.56" fill="#a9a9a9"/>
<circle cx="192.5" cy="313.7" r="0.45" fill="#a9a9a9"/>
<circle cx="190.6" cy="317.5" r="0.64" fill="#a9a9a9"/>
<circle cx="189.5" cy="312.3" r="0.55" fill="#d2d2d2"/>
<circle cx="193.3" cy="316.2" r="0.88" fill="#a9a9a9"/>
<circle cx="192.3" cy="319.3" r="0.79" fill="#d2d2d2"/>
<circle cx="191.7" cy="313.0" r="0.72" fill="#d2d2d2"/>
<circle cx="187.3" cy="313.1" r="0.83" fill="#d2d2d2"/>
<circle cx="189.2" cy="315.3" r="0.73" fill="#a9a9a9"/>
<ellipse cx="190.2" cy="315.5" rx="3.70" ry="4.30" transform="rotate(5.7 190.2 315.5)" fill="none" stroke="#e2e2e2" stroke-width="0.7" opacity="0.8"/>
<ellipse cx="190.2" cy="315.5" rx="5.40" ry="6.00" transform="rotate(5.7 190.2 315.5)" fill="none" stroke="#e4e4e4" stroke-width="0.8" opacity="0.8"/>
<ellipse cx="190.2" cy="315.5" rx="4.60" ry="5.20" transform="rotate(5.7 190.2 315.5)" fill="none" stroke="#4a4a4a" stroke-width="0.7"/><circle cx="180.0" cy="312.0" r="0.80" fill="#dedede" stroke="#939393" stroke-width="0.4"/><circle cx="182.0" cy="316.0" r="0.70" fill="#dedede" stroke="#939393" stroke-width="0.4"/><circle cx="184.5" cy="321.0" r="0.80" fill="#dedede" stroke="#939393" stroke-width="0.4"/><circle cx="196.5" cy="309.0" r="0.70" fill="#dedede" stroke="#939393" stroke-width="0.4"/><circle cx="197.5" cy="320.0" r="0.80" fill="#dedede" stroke="#939393" stroke-width="0.4"/><circle cx="193.0" cy="324.0" r="0.70" fill="#dedede" stroke="#939393" stroke-width="0.4"/><circle cx="179.0" cy="318.0" r="0.60" fill="#dedede" stroke="#939393" stroke-width="0.4"/><circle cx="186.0" cy="309.5" r="0.70" fill="#dedede" stroke="#939393" stroke-width="0.4"/></g>
<rect x="169.54" y="290.60" width="39.20" height="38.90" fill="none" stroke="#dedede" stroke-width="0.5" />
<rect x="168.54" y="289.60" width="41.20" height="40.90" fill="none" stroke="#424242" stroke-width="1.35" rx="0.8"/>
<rect x="171.44" y="326.45" width="10.40" height="1.45" fill="#2a2a2a" stroke="none" stroke-width="0" />
<rect x="220.02" y="289.60" width="41.20" height="40.90" fill="#cdcdcd" stroke="none" stroke-width="0" />
<g filter="url(#b1)"><ellipse cx="246.2" cy="304.0" rx="4.00" ry="4.30" transform="rotate(5.7 246.2 304.0)" fill="#d2d2d2" stroke="#d4d4d4" stroke-width="1.2"/>
<circle cx="243.5" cy="305.1" r="0.60" fill="#d2d2d2"/>
<circle cx="246.1" cy="303.9" r="0.69" fill="#d2d2d2"/>
<circle cx="244.5" cy="301.7" r="0.82" fill="#d2d2d2"/>
<circle cx="247.3" cy="306.6" r="0.92" fill="#a9a9a9"/>
<circle cx="244.3" cy="301.5" r="0.84" fill="#a9a9a9"/>
<circle cx="243.7" cy="305.3" r="0.92" fill="#a9a9a9"/>
<circle cx="244.1" cy="302.1" r="0.40" fill="#a9a9a9"/>
<circle cx="243.8" cy="305.7" r="0.72" fill="#a9a9a9"/>
<circle cx="246.1" cy="306.8" r="0.76" fill="#d2d2d2"/>
<circle cx="243.2" cy="303.5" r="0.95" fill="#d2d2d2"/>
<circle cx="247.6" cy="305.3" r="0.50" fill="#d2d2d2"/>
<circle cx="247.7" cy="303.6" r="0.64" fill="#d2d2d2"/>
<circle cx="242.9" cy="305.4" r="0.75" fill="#a9a9a9"/>
<circle cx="244.7" cy="306.5" r="0.89" fill="#a9a9a9"/>
<circle cx="247.3" cy="304.5" r="0.52" fill="#a9a9a9"/>
<circle cx="247.0" cy="306.6" r="0.89" fill="#a9a9a9"/>
<ellipse cx="246.2" cy="304.0" rx="3.10" ry="3.40" transform="rotate(5.7 246.2 304.0)" fill="none" stroke="#e2e2e2" stroke-width="0.7" opacity="0.8"/>
<ellipse cx="246.2" cy="304.0" rx="4.80" ry="5.10" transform="rotate(5.7 246.2 304.0)" fill="none" stroke="#e4e4e4" stroke-width="0.8" opacity="0.8"/>
<ellipse cx="246.2" cy="304.0" rx="4.00" ry="4.30" transform="rotate(5.7 246.2 304.0)" fill="none" stroke="#666" stroke-width="0.6"/><circle cx="240.0" cy="313.0" r="0.80" fill="#dedede" stroke="#939393" stroke-width="0.4"/><circle cx="242.0" cy="317.0" r="0.80" fill="#dedede" stroke="#939393" stroke-width="0.4"/><circle cx="246.0" cy="319.0" r="0.70" fill="#dedede" stroke="#939393" stroke-width="0.4"/><circle cx="248.5" cy="312.5" r="0.80" fill="#dedede" stroke="#939393" stroke-width="0.4"/><circle cx="238.0" cy="319.0" r="0.70" fill="#dedede" stroke="#939393" stroke-width="0.4"/><circle cx="244.0" cy="322.0" r="0.60" fill="#dedede" stroke="#939393" stroke-width="0.4"/></g>
<rect x="221.02" y="290.60" width="39.20" height="38.90" fill="none" stroke="#dedede" stroke-width="0.5" />
<rect x="220.02" y="289.60" width="41.20" height="40.90" fill="none" stroke="#424242" stroke-width="1.35" rx="0.8"/>
<rect x="222.92" y="326.45" width="10.40" height="1.45" fill="#2a2a2a" stroke="none" stroke-width="0" />
<text x="364.40" y="10.90" font-size="10" text-anchor="middle" class="h" >NCI-H1650 CSCs</text>
<clipPath id="clip0"><rect x="288.4" y="17.8" width="146.40000000000003" height="130.5"/></clipPath>
<g clip-path="url(#clip0)">
<line x1="293.30" y1="22.60" x2="350.67" y2="152.84" stroke="#111" stroke-width="1.25" stroke-dasharray="3.3 2.0"/>
<line x1="293.30" y1="22.60" x2="434.80" y2="84.20" stroke="#000" stroke-width="1.25" />
<line x1="293.30" y1="22.60" x2="434.80" y2="55.90" stroke="#111" stroke-width="1.05" stroke-dasharray="0.9 0.6"/>
</g>
<path d="M289.4,22.4 L289.9,19.7 L292.4,19.5 L293.3,22.0" fill="none" stroke="#111" stroke-width="0.8"/>
<line x1="288.40" y1="17.80" x2="434.80" y2="17.80" stroke="#222" stroke-width="1.5" />
<rect x="288.40" y="17.80" width="146.40" height="130.50" fill="none" stroke="#000" stroke-width="1.1" />
<line x1="293.30" y1="148.30" x2="293.30" y2="150.90" stroke="#000" stroke-width="1" />
<text x="293.30" y="158.60" font-size="6.0" text-anchor="middle" class="c2" >0</text>
<line x1="320.42" y1="148.30" x2="320.42" y2="150.90" stroke="#000" stroke-width="1" />
<text x="320.42" y="158.60" font-size="6.0" text-anchor="middle" class="c2"  textLength="10.6" lengthAdjust="spacingAndGlyphs">100</text>
<line x1="347.54" y1="148.30" x2="347.54" y2="150.90" stroke="#000" stroke-width="1" />
<text x="347.54" y="158.60" font-size="6.0" text-anchor="middle" class="c2"  textLength="10.6" lengthAdjust="spacingAndGlyphs">200</text>
<line x1="374.66" y1="148.30" x2="374.66" y2="150.90" stroke="#000" stroke-width="1" />
<text x="374.66" y="158.60" font-size="6.0" text-anchor="middle" class="c2"  textLength="10.6" lengthAdjust="spacingAndGlyphs">300</text>
<line x1="401.78" y1="148.30" x2="401.78" y2="150.90" stroke="#000" stroke-width="1" />
<text x="401.78" y="158.60" font-size="6.0" text-anchor="middle" class="c2"  textLength="10.6" lengthAdjust="spacingAndGlyphs">400</text>
<line x1="428.90" y1="148.30" x2="428.90" y2="150.90" stroke="#000" stroke-width="1" />
<text x="428.90" y="158.60" font-size="6.0" text-anchor="middle" class="c2"  textLength="10.6" lengthAdjust="spacingAndGlyphs">500</text>
<line x1="285.10" y1="22.60" x2="288.40" y2="22.60" stroke="#222" stroke-width="1.1" />
<text x="0" y="0" font-size="6.6" text-anchor="middle" class="c" transform="translate(283.40,22.60) rotate(-90)">0</text>
<line x1="285.10" y1="55.30" x2="288.40" y2="55.30" stroke="#222" stroke-width="1.1" />
<text x="0" y="0" font-size="6.6" text-anchor="middle" class="c" transform="translate(283.40,55.30) rotate(-90)">-1</text>
<line x1="285.10" y1="88.00" x2="288.40" y2="88.00" stroke="#222" stroke-width="1.1" />
<text x="0" y="0" font-size="6.6" text-anchor="middle" class="c" transform="translate(283.40,88.00) rotate(-90)">-2</text>
<line x1="285.10" y1="120.70" x2="288.40" y2="120.70" stroke="#222" stroke-width="1.1" />
<text x="0" y="0" font-size="6.6" text-anchor="middle" class="c" transform="translate(283.40,120.70) rotate(-90)">-3</text>
<text x="0" y="0" font-size="6.9" text-anchor="middle" class="c" textLength="112.5" lengthAdjust="spacingAndGlyphs" transform="translate(274.30,82.75) rotate(-90)">Fraction of wells w/o spheres (Log<tspan font-size="4.2" dy="1.2">2</tspan><tspan dy="-1.2">)</tspan></text>
<text x="326.50" y="167.70" font-size="7.3" text-anchor="start" class="c"  textLength="72.4" lengthAdjust="spacingAndGlyphs">Numbers of cells / well</text>
<line x1="378.00" y1="119.90" x2="391.80" y2="119.90" stroke="#111" stroke-width="1.35" stroke-dasharray="2.6 1.0"/>
<line x1="378.00" y1="129.20" x2="391.80" y2="129.20" stroke="#222" stroke-width="1.5" />
<line x1="378.00" y1="138.10" x2="391.80" y2="138.10" stroke="#222" stroke-width="1.0" stroke-dasharray="0.8 0.7"/>
<text x="394.70" y="122.20" font-size="6.6" text-anchor="start" class="c" >NT</text>
<text x="394.70" y="131.50" font-size="6.6" text-anchor="start" class="c" >C9 100 μM</text>
<text x="394.70" y="140.40" font-size="6.6" text-anchor="start" class="c" >CsA 50 μM</text>
<text x="364.40" y="193.50" font-size="10" text-anchor="middle" class="h" >HCC827 CSCs</text>
<clipPath id="clip181"><rect x="288.4" y="198.7" width="146.40000000000003" height="130.3"/></clipPath>
<g clip-path="url(#clip181)">
<line x1="293.30" y1="203.90" x2="334.27" y2="335.42" stroke="#111" stroke-width="1.25" stroke-dasharray="3.3 2.0"/>
<line x1="293.30" y1="203.00" x2="434.80" y2="250.80" stroke="#000" stroke-width="1.25" />
<line x1="293.30" y1="203.70" x2="434.80" y2="242.00" stroke="#111" stroke-width="1.05" stroke-dasharray="0.9 0.6"/>
</g>
<path d="M289.4,203.3 L289.9,200.6 L292.4,200.4 L293.3,202.9" fill="none" stroke="#111" stroke-width="0.8"/>
<line x1="288.40" y1="198.70" x2="434.80" y2="198.70" stroke="#222" stroke-width="1.5" />
<rect x="288.40" y="198.70" width="146.40" height="130.30" fill="none" stroke="#000" stroke-width="1.1" />
<line x1="293.30" y1="329.00" x2="293.30" y2="331.60" stroke="#000" stroke-width="1" />
<text x="293.30" y="339.30" font-size="6.0" text-anchor="middle" class="c2" >0</text>
<line x1="320.42" y1="329.00" x2="320.42" y2="331.60" stroke="#000" stroke-width="1" />
<text x="320.42" y="339.30" font-size="6.0" text-anchor="middle" class="c2"  textLength="10.6" lengthAdjust="spacingAndGlyphs">100</text>
<line x1="347.54" y1="329.00" x2="347.54" y2="331.60" stroke="#000" stroke-width="1" />
<text x="347.54" y="339.30" font-size="6.0" text-anchor="middle" class="c2"  textLength="10.6" lengthAdjust="spacingAndGlyphs">200</text>
<line x1="374.66" y1="329.00" x2="374.66" y2="331.60" stroke="#000" stroke-width="1" />
<text x="374.66" y="339.30" font-size="6.0" text-anchor="middle" class="c2"  textLength="10.6" lengthAdjust="spacingAndGlyphs">300</text>
<line x1="401.78" y1="329.00" x2="401.78" y2="331.60" stroke="#000" stroke-width="1" />
<text x="401.78" y="339.30" font-size="6.0" text-anchor="middle" class="c2"  textLength="10.6" lengthAdjust="spacingAndGlyphs">400</text>
<line x1="428.90" y1="329.00" x2="428.90" y2="331.60" stroke="#000" stroke-width="1" />
<text x="428.90" y="339.30" font-size="6.0" text-anchor="middle" class="c2"  textLength="10.6" lengthAdjust="spacingAndGlyphs">500</text>
<line x1="285.10" y1="203.90" x2="288.40" y2="203.90" stroke="#222" stroke-width="1.1" />
<text x="0" y="0" font-size="6.6" text-anchor="middle" class="c" transform="translate(283.40,203.90) rotate(-90)">0</text>
<line x1="285.10" y1="236.50" x2="288.40" y2="236.50" stroke="#222" stroke-width="1.1" />
<text x="0" y="0" font-size="6.6" text-anchor="middle" class="c" transform="translate(283.40,236.50) rotate(-90)">-1</text>
<line x1="285.10" y1="269.10" x2="288.40" y2="269.10" stroke="#222" stroke-width="1.1" />
<text x="0" y="0" font-size="6.6" text-anchor="middle" class="c" transform="translate(283.40,269.10) rotate(-90)">-2</text>
<line x1="285.10" y1="301.70" x2="288.40" y2="301.70" stroke="#222" stroke-width="1.1" />
<text x="0" y="0" font-size="6.6" text-anchor="middle" class="c" transform="translate(283.40,301.70) rotate(-90)">-3</text>
<text x="0" y="0" font-size="6.9" text-anchor="middle" class="c" textLength="112.5" lengthAdjust="spacingAndGlyphs" transform="translate(274.30,263.75) rotate(-90)">Fraction of wells w/o spheres (Log<tspan font-size="4.2" dy="1.2">2</tspan><tspan dy="-1.2">)</tspan></text>
<text x="326.50" y="348.40" font-size="7.3" text-anchor="start" class="c"  textLength="72.4" lengthAdjust="spacingAndGlyphs">Numbers of cells / well</text>
<line x1="378.00" y1="300.90" x2="391.80" y2="300.90" stroke="#111" stroke-width="1.35" stroke-dasharray="2.6 1.0"/>
<line x1="378.00" y1="310.20" x2="391.80" y2="310.20" stroke="#222" stroke-width="1.5" />
<line x1="378.00" y1="319.10" x2="391.80" y2="319.10" stroke="#222" stroke-width="1.0" stroke-dasharray="0.8 0.7"/>
<text x="394.70" y="303.20" font-size="6.6" text-anchor="start" class="c" >NT</text>
<text x="394.70" y="312.50" font-size="6.6" text-anchor="start" class="c" >C9 100 μM</text>
<text x="394.70" y="321.40" font-size="6.6" text-anchor="start" class="c" >CsA 50 μM</text>
<line x1="490.15" y1="106.00" x2="490.15" y2="104.20" stroke="#333" stroke-width="0.75" />
<line x1="487.95" y1="104.20" x2="492.35" y2="104.20" stroke="#222" stroke-width="0.9" />
<rect x="486.40" y="106.00" width="7.50" height="4.20" fill="#000" stroke="none" stroke-width="0" />
<line x1="512.85" y1="87.30" x2="512.85" y2="80.80" stroke="#333" stroke-width="0.75" />
<line x1="510.65" y1="80.80" x2="515.05" y2="80.80" stroke="#222" stroke-width="0.9" />
<rect x="509.10" y="87.30" width="7.50" height="22.90" fill="#000" stroke="none" stroke-width="0" />
<text x="512.85" y="79.60" font-size="6" text-anchor="middle" class="st" >*</text>
<line x1="535.55" y1="68.00" x2="535.55" y2="53.50" stroke="#333" stroke-width="0.75" />
<line x1="533.35" y1="53.50" x2="537.75" y2="53.50" stroke="#222" stroke-width="0.9" />
<rect x="531.80" y="68.00" width="7.50" height="42.20" fill="#000" stroke="none" stroke-width="0" />
<text x="535.55" y="52.30" font-size="6" text-anchor="middle" class="st" >*</text>
<rect x="479.10" y="42.70" width="67.50" height="67.50" fill="none" stroke="#333" stroke-width="0.95" />
<line x1="477.10" y1="110.20" x2="479.10" y2="110.20" stroke="#000" stroke-width="0.8" />
<text x="473.00" y="112.80" font-size="7.2" text-anchor="end" class="c" >0</text>
<line x1="477.10" y1="93.33" x2="479.10" y2="93.33" stroke="#000" stroke-width="0.8" />
<text x="473.00" y="95.92" font-size="7.2" text-anchor="end" class="c"  textLength="11.0" lengthAdjust="spacingAndGlyphs">200</text>
<line x1="477.10" y1="76.45" x2="479.10" y2="76.45" stroke="#000" stroke-width="0.8" />
<text x="473.00" y="79.05" font-size="7.2" text-anchor="end" class="c"  textLength="11.0" lengthAdjust="spacingAndGlyphs">400</text>
<line x1="477.10" y1="59.58" x2="479.10" y2="59.58" stroke="#000" stroke-width="0.8" />
<text x="473.00" y="62.18" font-size="7.2" text-anchor="end" class="c"  textLength="11.0" lengthAdjust="spacingAndGlyphs">600</text>
<line x1="477.10" y1="42.70" x2="479.10" y2="42.70" stroke="#000" stroke-width="0.8" />
<text x="473.00" y="45.30" font-size="7.2" text-anchor="end" class="c"  textLength="11.0" lengthAdjust="spacingAndGlyphs">800</text>
<text x="0" y="0" font-size="6.6" text-anchor="middle" class="c" textLength="74.7" lengthAdjust="spacingAndGlyphs" transform="translate(449.90,76.15) rotate(-90)">Confidence intervals for</text>
<text x="0" y="0" font-size="6.6" text-anchor="middle" class="c" textLength="70.9" lengthAdjust="spacingAndGlyphs" transform="translate(458.30,75.85) rotate(-90)">1/(stem cell frequency)</text>
<text x="478.30" y="122.20" font-size="7.5" text-anchor="end" class="c" >C9 (μM)</text>
<text x="478.30" y="133.30" font-size="7.6" text-anchor="end" class="c" >CsA (μM)</text>
<text x="490.15" y="122.20" font-size="7.2" text-anchor="middle" class="c" >–</text>
<text x="512.85" y="122.20" font-size="7.2" text-anchor="middle" class="c" >100</text>
<text x="535.55" y="122.20" font-size="7.2" text-anchor="middle" class="c" >–</text>
<text x="490.15" y="133.30" font-size="7.2" text-anchor="middle" class="c" >–</text>
<text x="512.85" y="133.30" font-size="7.2" text-anchor="middle" class="c" >–</text>
<text x="535.55" y="133.30" font-size="7.2" text-anchor="middle" class="c" >50</text>
<line x1="490.15" y1="292.00" x2="490.15" y2="291.00" stroke="#333" stroke-width="0.75" />
<line x1="487.95" y1="291.00" x2="492.35" y2="291.00" stroke="#222" stroke-width="0.9" />
<rect x="486.40" y="292.00" width="7.50" height="3.10" fill="#000" stroke="none" stroke-width="0" />
<line x1="512.85" y1="264.80" x2="512.85" y2="255.20" stroke="#333" stroke-width="0.75" />
<line x1="510.65" y1="255.20" x2="515.05" y2="255.20" stroke="#222" stroke-width="0.9" />
<rect x="509.10" y="264.80" width="7.50" height="30.30" fill="#000" stroke="none" stroke-width="0" />
<text x="510.55" y="252.30" font-size="6" text-anchor="middle" class="st" >*</text>
<text x="515.15" y="252.30" font-size="6" text-anchor="middle" class="st" >*</text>
<line x1="535.55" y1="258.00" x2="535.55" y2="245.70" stroke="#333" stroke-width="0.75" />
<line x1="533.35" y1="245.70" x2="537.75" y2="245.70" stroke="#222" stroke-width="0.9" />
<rect x="531.80" y="258.00" width="7.50" height="37.10" fill="#000" stroke="none" stroke-width="0" />
<text x="533.25" y="242.80" font-size="6" text-anchor="middle" class="st" >*</text>
<text x="537.85" y="242.80" font-size="6" text-anchor="middle" class="st" >*</text>
<rect x="479.10" y="228.60" width="67.50" height="66.50" fill="none" stroke="#333" stroke-width="0.95" />
<line x1="477.10" y1="295.10" x2="479.10" y2="295.10" stroke="#000" stroke-width="0.8" />
<text x="473.00" y="297.70" font-size="7.2" text-anchor="end" class="c" >0</text>
<line x1="477.10" y1="278.48" x2="479.10" y2="278.48" stroke="#000" stroke-width="0.8" />
<text x="473.00" y="281.08" font-size="7.2" text-anchor="end" class="c"  textLength="11.0" lengthAdjust="spacingAndGlyphs">200</text>
<line x1="477.10" y1="261.85" x2="479.10" y2="261.85" stroke="#000" stroke-width="0.8" />
<text x="473.00" y="264.45" font-size="7.2" text-anchor="end" class="c"  textLength="11.0" lengthAdjust="spacingAndGlyphs">400</text>
<line x1="477.10" y1="245.22" x2="479.10" y2="245.22" stroke="#000" stroke-width="0.8" />
<text x="473.00" y="247.82" font-size="7.2" text-anchor="end" class="c"  textLength="11.0" lengthAdjust="spacingAndGlyphs">600</text>
<line x1="477.10" y1="228.60" x2="479.10" y2="228.60" stroke="#000" stroke-width="0.8" />
<text x="473.00" y="231.20" font-size="7.2" text-anchor="end" class="c"  textLength="11.0" lengthAdjust="spacingAndGlyphs">800</text>
<text x="0" y="0" font-size="6.6" text-anchor="middle" class="c" textLength="74.7" lengthAdjust="spacingAndGlyphs" transform="translate(449.90,263.00) rotate(-90)">Confidence intervals for</text>
<text x="0" y="0" font-size="6.6" text-anchor="middle" class="c" textLength="70.9" lengthAdjust="spacingAndGlyphs" transform="translate(458.30,262.75) rotate(-90)">1/(stem cell frequency)</text>
<text x="478.30" y="308.20" font-size="7.5" text-anchor="end" class="c" >C9 (μM)</text>
<text x="478.30" y="319.30" font-size="7.6" text-anchor="end" class="c" >CsA (μM)</text>
<text x="490.15" y="308.20" font-size="7.2" text-anchor="middle" class="c" >–</text>
<text x="512.85" y="308.20" font-size="7.2" text-anchor="middle" class="c" >100</text>
<text x="535.55" y="308.20" font-size="7.2" text-anchor="middle" class="c" >–</text>
<text x="490.15" y="319.30" font-size="7.2" text-anchor="middle" class="c" >–</text>
<text x="512.85" y="319.30" font-size="7.2" text-anchor="middle" class="c" >–</text>
<text x="535.55" y="319.30" font-size="7.2" text-anchor="middle" class="c" >50</text>
</svg></body></html>
